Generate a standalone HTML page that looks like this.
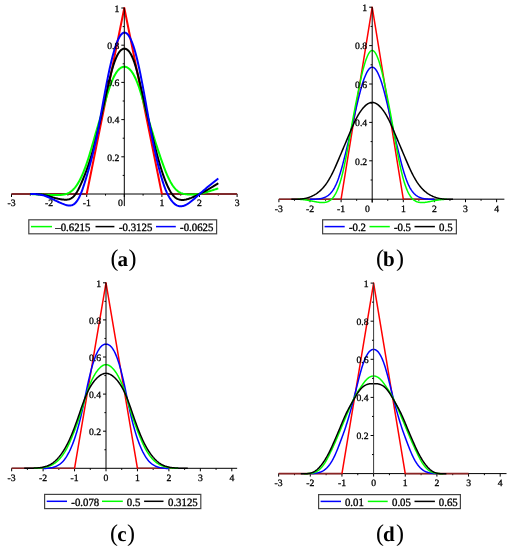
<!DOCTYPE html>
<html><head><meta charset="utf-8"><style>
html,body{margin:0;padding:0;background:#fff;}
svg{display:block;}
text{text-rendering:geometricPrecision;}
.t{font-family:"Liberation Serif",serif;font-size:9.7px;font-weight:normal;fill:#000;stroke:#000;stroke-width:0.3px;}
.lg{font-family:"Liberation Serif",serif;font-size:11.2px;font-weight:normal;fill:#000;stroke:#000;stroke-width:0.35px;}
.cap{font-family:"Liberation Serif",serif;font-size:21px;fill:#000;}
</style></head><body>
<svg width="510" height="550" viewBox="0 0 510 550">
<rect width="510" height="550" fill="#fff"/>
<line x1="11.50" y1="194.0" x2="237.10" y2="194.0" stroke="#000" stroke-width="1"/>
<line x1="11.50" y1="194.0" x2="11.50" y2="197.0" stroke="#000" stroke-width="1"/>
<line x1="30.30" y1="194.0" x2="30.30" y2="195.6" stroke="#000" stroke-width="1"/>
<line x1="49.10" y1="194.0" x2="49.10" y2="197.0" stroke="#000" stroke-width="1"/>
<line x1="67.90" y1="194.0" x2="67.90" y2="195.6" stroke="#000" stroke-width="1"/>
<line x1="86.70" y1="194.0" x2="86.70" y2="197.0" stroke="#000" stroke-width="1"/>
<line x1="105.50" y1="194.0" x2="105.50" y2="195.6" stroke="#000" stroke-width="1"/>
<line x1="124.30" y1="194.0" x2="124.30" y2="197.0" stroke="#000" stroke-width="1"/>
<line x1="143.10" y1="194.0" x2="143.10" y2="195.6" stroke="#000" stroke-width="1"/>
<line x1="161.90" y1="194.0" x2="161.90" y2="197.0" stroke="#000" stroke-width="1"/>
<line x1="180.70" y1="194.0" x2="180.70" y2="195.6" stroke="#000" stroke-width="1"/>
<line x1="199.50" y1="194.0" x2="199.50" y2="197.0" stroke="#000" stroke-width="1"/>
<line x1="218.30" y1="194.0" x2="218.30" y2="195.6" stroke="#000" stroke-width="1"/>
<line x1="237.10" y1="194.0" x2="237.10" y2="197.0" stroke="#000" stroke-width="1"/>
<line x1="11.50" y1="194.0" x2="87.30" y2="194.0" stroke="#7f2a2c" stroke-width="2.1"/>
<line x1="161.30" y1="194.0" x2="237.10" y2="194.0" stroke="#7f2a2c" stroke-width="2.1"/>
<path d="M86.70,194.0 L124.30,8.00 L161.90,194.0" fill="none" stroke="#ff0000" stroke-width="2.0" stroke-linejoin="round"/>
<path d="M30.30,194.01 L30.93,194.05 L31.56,194.09 L32.19,194.13 L32.82,194.16 L33.44,194.20 L34.07,194.24 L34.70,194.27 L35.33,194.31 L35.96,194.34 L36.59,194.38 L37.22,194.41 L37.85,194.44 L38.47,194.47 L39.10,194.50 L39.73,194.52 L40.36,194.55 L40.99,194.57 L41.62,194.59 L42.25,194.61 L42.88,194.63 L43.50,194.65 L44.13,194.67 L44.76,194.69 L45.39,194.71 L46.02,194.73 L46.65,194.75 L47.28,194.77 L47.91,194.79 L48.53,194.81 L49.16,194.83 L49.79,194.86 L50.42,194.88 L51.05,194.91 L51.68,194.93 L52.31,194.96 L52.94,194.98 L53.56,195.00 L54.19,195.02 L54.82,195.04 L55.45,195.05 L56.08,195.06 L56.71,195.06 L57.34,195.06 L57.97,195.06 L58.59,195.05 L59.22,195.03 L59.85,195.01 L60.48,194.97 L61.11,194.93 L61.74,194.87 L62.37,194.80 L63.00,194.71 L63.62,194.61 L64.25,194.48 L64.88,194.34 L65.51,194.17 L66.14,193.98 L66.77,193.76 L67.40,193.52 L68.03,193.25 L68.65,192.94 L69.28,192.60 L69.91,192.23 L70.54,191.81 L71.17,191.35 L71.80,190.85 L72.43,190.31 L73.06,189.71 L73.68,189.07 L74.31,188.39 L74.94,187.65 L75.57,186.86 L76.20,186.01 L76.83,185.12 L77.46,184.16 L78.09,183.15 L78.71,182.08 L79.34,180.94 L79.97,179.74 L80.60,178.48 L81.23,177.16 L81.86,175.77 L82.49,174.33 L83.12,172.84 L83.74,171.29 L84.37,169.69 L85.00,168.03 L85.63,166.33 L86.26,164.56 L86.89,162.74 L87.52,160.87 L88.15,158.94 L88.77,156.97 L89.40,154.96 L90.03,152.90 L90.66,150.81 L91.29,148.68 L91.92,146.53 L92.55,144.35 L93.18,142.16 L93.81,139.96 L94.43,137.76 L95.06,135.56 L95.69,133.37 L96.32,131.20 L96.95,129.06 L97.58,126.94 L98.21,124.84 L98.84,122.75 L99.46,120.66 L100.09,118.59 L100.72,116.51 L101.35,114.43 L101.98,112.33 L102.61,110.23 L103.24,108.10 L103.87,105.96 L104.49,103.80 L105.12,101.65 L105.75,99.51 L106.38,97.40 L107.01,95.33 L107.64,93.30 L108.27,91.33 L108.90,89.41 L109.52,87.56 L110.15,85.78 L110.78,84.07 L111.41,82.44 L112.04,80.90 L112.67,79.44 L113.30,78.06 L113.93,76.76 L114.55,75.54 L115.18,74.41 L115.81,73.36 L116.44,72.39 L117.07,71.50 L117.70,70.69 L118.33,69.96 L118.96,69.31 L119.58,68.73 L120.21,68.23 L120.84,67.81 L121.47,67.45 L122.10,67.18 L122.73,66.97 L123.36,66.83 L123.99,66.76 L124.61,66.76 L125.24,66.83 L125.87,66.96 L126.50,67.17 L127.13,67.44 L127.76,67.79 L128.39,68.22 L129.02,68.71 L129.64,69.28 L130.27,69.93 L130.90,70.66 L131.53,71.47 L132.16,72.35 L132.79,73.32 L133.42,74.37 L134.05,75.50 L134.67,76.71 L135.30,78.01 L135.93,79.39 L136.56,80.85 L137.19,82.40 L137.82,84.03 L138.45,85.74 L139.08,87.54 L139.70,89.40 L140.33,91.34 L140.96,93.34 L141.59,95.39 L142.22,97.50 L142.85,99.66 L143.48,101.84 L144.11,104.06 L144.73,106.28 L145.36,108.49 L145.99,110.69 L146.62,112.88 L147.25,115.05 L147.88,117.20 L148.51,119.34 L149.14,121.46 L149.76,123.57 L150.39,125.66 L151.02,127.74 L151.65,129.81 L152.28,131.87 L152.91,133.91 L153.54,135.94 L154.17,137.96 L154.79,139.97 L155.42,141.95 L156.05,143.93 L156.68,145.89 L157.31,147.83 L157.94,149.75 L158.57,151.66 L159.20,153.55 L159.83,155.42 L160.45,157.27 L161.08,159.10 L161.71,160.90 L162.34,162.68 L162.97,164.43 L163.60,166.15 L164.23,167.83 L164.86,169.47 L165.48,171.07 L166.11,172.62 L166.74,174.12 L167.37,175.57 L168.00,176.96 L168.63,178.29 L169.26,179.57 L169.89,180.79 L170.51,181.95 L171.14,183.06 L171.77,184.10 L172.40,185.09 L173.03,186.02 L173.66,186.88 L174.29,187.69 L174.92,188.43 L175.54,189.12 L176.17,189.75 L176.80,190.33 L177.43,190.85 L178.06,191.33 L178.69,191.76 L179.32,192.15 L179.95,192.49 L180.57,192.80 L181.20,193.08 L181.83,193.32 L182.46,193.53 L183.09,193.71 L183.72,193.87 L184.35,194.01 L184.98,194.12 L185.60,194.21 L186.23,194.28 L186.86,194.34 L187.49,194.38 L188.12,194.41 L188.75,194.44 L189.38,194.45 L190.01,194.46 L190.63,194.46 L191.26,194.47 L191.89,194.46 L192.52,194.45 L193.15,194.44 L193.78,194.42 L194.41,194.39 L195.04,194.36 L195.66,194.32 L196.29,194.27 L196.92,194.21 L197.55,194.14 L198.18,194.06 L198.81,193.97 L199.44,193.88 L200.07,193.77 L200.69,193.65 L201.32,193.51 L201.95,193.37 L202.58,193.22 L203.21,193.07 L203.84,192.90 L204.47,192.73 L205.10,192.56 L205.72,192.37 L206.35,192.19 L206.98,192.00 L207.61,191.80 L208.24,191.61 L208.87,191.41 L209.50,191.21 L210.13,191.02 L210.75,190.82 L211.38,190.62 L212.01,190.42 L212.64,190.22 L213.27,190.02 L213.90,189.82 L214.53,189.62 L215.16,189.42 L215.78,189.22 L216.41,189.02 L217.04,188.82 L217.67,188.62 L218.30,188.42" fill="none" stroke="#00ff00" stroke-width="2.0" stroke-linejoin="round"/>
<path d="M30.30,193.94 L30.93,193.95 L31.56,193.95 L32.19,193.96 L32.82,193.96 L33.44,193.97 L34.07,193.98 L34.70,194.00 L35.33,194.02 L35.96,194.04 L36.59,194.07 L37.22,194.10 L37.85,194.14 L38.47,194.19 L39.10,194.24 L39.73,194.30 L40.36,194.37 L40.99,194.45 L41.62,194.53 L42.25,194.63 L42.88,194.73 L43.50,194.85 L44.13,194.98 L44.76,195.12 L45.39,195.27 L46.02,195.43 L46.65,195.59 L47.28,195.76 L47.91,195.94 L48.53,196.12 L49.16,196.31 L49.79,196.50 L50.42,196.69 L51.05,196.88 L51.68,197.07 L52.31,197.26 L52.94,197.44 L53.56,197.62 L54.19,197.80 L54.82,197.97 L55.45,198.13 L56.08,198.29 L56.71,198.44 L57.34,198.59 L57.97,198.73 L58.59,198.86 L59.22,198.98 L59.85,199.10 L60.48,199.20 L61.11,199.30 L61.74,199.39 L62.37,199.47 L63.00,199.54 L63.62,199.60 L64.25,199.65 L64.88,199.69 L65.51,199.70 L66.14,199.70 L66.77,199.66 L67.40,199.60 L68.03,199.50 L68.65,199.36 L69.28,199.19 L69.91,198.96 L70.54,198.69 L71.17,198.36 L71.80,197.97 L72.43,197.52 L73.06,196.99 L73.68,196.39 L74.31,195.71 L74.94,194.95 L75.57,194.10 L76.20,193.18 L76.83,192.18 L77.46,191.10 L78.09,189.96 L78.71,188.76 L79.34,187.50 L79.97,186.18 L80.60,184.82 L81.23,183.42 L81.86,181.98 L82.49,180.51 L83.12,179.01 L83.74,177.49 L84.37,175.93 L85.00,174.35 L85.63,172.72 L86.26,171.06 L86.89,169.36 L87.52,167.61 L88.15,165.82 L88.77,163.97 L89.40,162.06 L90.03,160.10 L90.66,158.08 L91.29,156.00 L91.92,153.86 L92.55,151.66 L93.18,149.40 L93.81,147.08 L94.43,144.69 L95.06,142.24 L95.69,139.75 L96.32,137.20 L96.95,134.62 L97.58,131.99 L98.21,129.34 L98.84,126.65 L99.46,123.94 L100.09,121.20 L100.72,118.45 L101.35,115.67 L101.98,112.87 L102.61,110.06 L103.24,107.24 L103.87,104.41 L104.49,101.57 L105.12,98.73 L105.75,95.90 L106.38,93.08 L107.01,90.28 L107.64,87.51 L108.27,84.78 L108.90,82.11 L109.52,79.49 L110.15,76.95 L110.78,74.48 L111.41,72.11 L112.04,69.83 L112.67,67.65 L113.30,65.58 L113.93,63.63 L114.55,61.80 L115.18,60.10 L115.81,58.53 L116.44,57.08 L117.07,55.76 L117.70,54.55 L118.33,53.47 L118.96,52.50 L119.58,51.65 L120.21,50.91 L120.84,50.28 L121.47,49.76 L122.10,49.34 L122.73,49.03 L123.36,48.81 L123.99,48.70 L124.61,48.69 L125.24,48.77 L125.87,48.95 L126.50,49.23 L127.13,49.62 L127.76,50.11 L128.39,50.72 L129.02,51.44 L129.64,52.27 L130.27,53.22 L130.90,54.29 L131.53,55.48 L132.16,56.80 L132.79,58.25 L133.42,59.83 L134.05,61.54 L134.67,63.39 L135.30,65.36 L135.93,67.46 L136.56,69.67 L137.19,71.98 L137.82,74.38 L138.45,76.87 L139.08,79.43 L139.70,82.06 L140.33,84.75 L140.96,87.47 L141.59,90.23 L142.22,93.01 L142.85,95.80 L143.48,98.59 L144.11,101.37 L144.73,104.14 L145.36,106.89 L145.99,109.62 L146.62,112.32 L147.25,115.00 L147.88,117.66 L148.51,120.30 L149.14,122.92 L149.76,125.53 L150.39,128.13 L151.02,130.72 L151.65,133.29 L152.28,135.86 L152.91,138.41 L153.54,140.94 L154.17,143.44 L154.79,145.93 L155.42,148.38 L156.05,150.80 L156.68,153.18 L157.31,155.53 L157.94,157.83 L158.57,160.08 L159.20,162.28 L159.83,164.43 L160.45,166.53 L161.08,168.57 L161.71,170.56 L162.34,172.48 L162.97,174.35 L163.60,176.16 L164.23,177.90 L164.86,179.59 L165.48,181.20 L166.11,182.75 L166.74,184.24 L167.37,185.65 L168.00,187.00 L168.63,188.28 L169.26,189.50 L169.89,190.64 L170.51,191.71 L171.14,192.71 L171.77,193.64 L172.40,194.49 L173.03,195.28 L173.66,195.99 L174.29,196.63 L174.92,197.20 L175.54,197.71 L176.17,198.16 L176.80,198.55 L177.43,198.88 L178.06,199.16 L178.69,199.40 L179.32,199.59 L179.95,199.73 L180.57,199.84 L181.20,199.91 L181.83,199.95 L182.46,199.96 L183.09,199.94 L183.72,199.89 L184.35,199.82 L184.98,199.73 L185.60,199.61 L186.23,199.48 L186.86,199.32 L187.49,199.15 L188.12,198.96 L188.75,198.76 L189.38,198.54 L190.01,198.31 L190.63,198.07 L191.26,197.83 L191.89,197.57 L192.52,197.31 L193.15,197.04 L193.78,196.77 L194.41,196.49 L195.04,196.20 L195.66,195.91 L196.29,195.62 L196.92,195.32 L197.55,195.01 L198.18,194.70 L198.81,194.39 L199.44,194.08 L200.07,193.76 L200.69,193.44 L201.32,193.12 L201.95,192.79 L202.58,192.46 L203.21,192.13 L203.84,191.79 L204.47,191.46 L205.10,191.11 L205.72,190.77 L206.35,190.42 L206.98,190.07 L207.61,189.71 L208.24,189.36 L208.87,188.99 L209.50,188.63 L210.13,188.26 L210.75,187.89 L211.38,187.51 L212.01,187.13 L212.64,186.75 L213.27,186.36 L213.90,185.98 L214.53,185.59 L215.16,185.20 L215.78,184.81 L216.41,184.42 L217.04,184.03 L217.67,183.63 L218.30,183.24" fill="none" stroke="#000000" stroke-width="2.0" stroke-linejoin="round"/>
<path d="M30.30,193.92 L30.93,193.94 L31.56,193.95 L32.19,193.97 L32.82,193.99 L33.44,194.01 L34.07,194.04 L34.70,194.07 L35.33,194.11 L35.96,194.15 L36.59,194.20 L37.22,194.26 L37.85,194.32 L38.47,194.40 L39.10,194.48 L39.73,194.58 L40.36,194.68 L40.99,194.80 L41.62,194.93 L42.25,195.07 L42.88,195.23 L43.50,195.40 L44.13,195.59 L44.76,195.80 L45.39,196.01 L46.02,196.25 L46.65,196.49 L47.28,196.74 L47.91,197.01 L48.53,197.28 L49.16,197.56 L49.79,197.85 L50.42,198.15 L51.05,198.44 L51.68,198.75 L52.31,199.05 L52.94,199.35 L53.56,199.66 L54.19,199.96 L54.82,200.26 L55.45,200.57 L56.08,200.86 L56.71,201.16 L57.34,201.45 L57.97,201.74 L58.59,202.03 L59.22,202.31 L59.85,202.59 L60.48,202.86 L61.11,203.13 L61.74,203.40 L62.37,203.65 L63.00,203.91 L63.62,204.15 L64.25,204.39 L64.88,204.62 L65.51,204.83 L66.14,205.02 L66.77,205.19 L67.40,205.33 L68.03,205.44 L68.65,205.51 L69.28,205.54 L69.91,205.53 L70.54,205.48 L71.17,205.37 L71.80,205.20 L72.43,204.98 L73.06,204.69 L73.68,204.32 L74.31,203.88 L74.94,203.36 L75.57,202.74 L76.20,202.03 L76.83,201.23 L77.46,200.32 L78.09,199.30 L78.71,198.19 L79.34,196.97 L79.97,195.65 L80.60,194.21 L81.23,192.68 L81.86,191.06 L82.49,189.34 L83.12,187.54 L83.74,185.66 L84.37,183.71 L85.00,181.71 L85.63,179.66 L86.26,177.56 L86.89,175.44 L87.52,173.29 L88.15,171.12 L88.77,168.93 L89.40,166.71 L90.03,164.45 L90.66,162.14 L91.29,159.79 L91.92,157.38 L92.55,154.91 L93.18,152.38 L93.81,149.79 L94.43,147.12 L95.06,144.38 L95.69,141.56 L96.32,138.66 L96.95,135.66 L97.58,132.58 L98.21,129.39 L98.84,126.11 L99.46,122.72 L100.09,119.26 L100.72,115.76 L101.35,112.23 L101.98,108.71 L102.61,105.20 L103.24,101.71 L103.87,98.25 L104.49,94.82 L105.12,91.43 L105.75,88.08 L106.38,84.78 L107.01,81.55 L107.64,78.37 L108.27,75.27 L108.90,72.24 L109.52,69.29 L110.15,66.43 L110.78,63.67 L111.41,61.01 L112.04,58.45 L112.67,56.01 L113.30,53.67 L113.93,51.45 L114.55,49.34 L115.18,47.35 L115.81,45.48 L116.44,43.73 L117.07,42.09 L117.70,40.59 L118.33,39.20 L118.96,37.94 L119.58,36.81 L120.21,35.81 L120.84,34.94 L121.47,34.21 L122.10,33.61 L122.73,33.14 L123.36,32.81 L123.99,32.63 L124.61,32.58 L125.24,32.67 L125.87,32.91 L126.50,33.28 L127.13,33.79 L127.76,34.44 L128.39,35.22 L129.02,36.13 L129.64,37.18 L130.27,38.36 L130.90,39.66 L131.53,41.10 L132.16,42.66 L132.79,44.35 L133.42,46.16 L134.05,48.09 L134.67,50.15 L135.30,52.32 L135.93,54.61 L136.56,57.02 L137.19,59.55 L137.82,62.19 L138.45,64.94 L139.08,67.80 L139.70,70.75 L140.33,73.79 L140.96,76.91 L141.59,80.11 L142.22,83.38 L142.85,86.71 L143.48,90.09 L144.11,93.53 L144.73,97.00 L145.36,100.51 L145.99,104.05 L146.62,107.60 L147.25,111.17 L147.88,114.75 L148.51,118.31 L149.14,121.85 L149.76,125.34 L150.39,128.76 L151.02,132.11 L151.65,135.38 L152.28,138.58 L152.91,141.70 L153.54,144.76 L154.17,147.74 L154.79,150.65 L155.42,153.50 L156.05,156.28 L156.68,158.99 L157.31,161.65 L157.94,164.24 L158.57,166.77 L159.20,169.23 L159.83,171.61 L160.45,173.93 L161.08,176.16 L161.71,178.32 L162.34,180.39 L162.97,182.37 L163.60,184.27 L164.23,186.06 L164.86,187.76 L165.48,189.37 L166.11,190.88 L166.74,192.31 L167.37,193.65 L168.00,194.91 L168.63,196.09 L169.26,197.20 L169.89,198.23 L170.51,199.19 L171.14,200.09 L171.77,200.92 L172.40,201.69 L173.03,202.39 L173.66,203.03 L174.29,203.61 L174.92,204.13 L175.54,204.59 L176.17,205.00 L176.80,205.34 L177.43,205.63 L178.06,205.86 L178.69,206.04 L179.32,206.17 L179.95,206.25 L180.57,206.27 L181.20,206.25 L181.83,206.19 L182.46,206.09 L183.09,205.94 L183.72,205.75 L184.35,205.53 L184.98,205.28 L185.60,204.99 L186.23,204.67 L186.86,204.33 L187.49,203.96 L188.12,203.56 L188.75,203.14 L189.38,202.71 L190.01,202.25 L190.63,201.78 L191.26,201.29 L191.89,200.79 L192.52,200.28 L193.15,199.76 L193.78,199.23 L194.41,198.68 L195.04,198.13 L195.66,197.58 L196.29,197.02 L196.92,196.45 L197.55,195.88 L198.18,195.31 L198.81,194.75 L199.44,194.18 L200.07,193.61 L200.69,193.05 L201.32,192.49 L201.95,191.93 L202.58,191.38 L203.21,190.82 L203.84,190.28 L204.47,189.73 L205.10,189.19 L205.72,188.65 L206.35,188.11 L206.98,187.58 L207.61,187.05 L208.24,186.53 L208.87,186.01 L209.50,185.49 L210.13,184.98 L210.75,184.47 L211.38,183.96 L212.01,183.46 L212.64,182.96 L213.27,182.46 L213.90,181.96 L214.53,181.47 L215.16,180.98 L215.78,180.49 L216.41,180.00 L217.04,179.51 L217.67,179.02 L218.30,178.53" fill="none" stroke="#0000ff" stroke-width="2.0" stroke-linejoin="round"/>
<line x1="124.3" y1="8.00" x2="124.3" y2="206.09" stroke="#000" stroke-width="1"/>
<line x1="122.7" y1="175.40" x2="124.3" y2="175.40" stroke="#000" stroke-width="1"/>
<line x1="121.3" y1="156.80" x2="124.3" y2="156.80" stroke="#000" stroke-width="1"/>
<line x1="122.7" y1="138.20" x2="124.3" y2="138.20" stroke="#000" stroke-width="1"/>
<line x1="121.3" y1="119.60" x2="124.3" y2="119.60" stroke="#000" stroke-width="1"/>
<line x1="122.7" y1="101.00" x2="124.3" y2="101.00" stroke="#000" stroke-width="1"/>
<line x1="121.3" y1="82.40" x2="124.3" y2="82.40" stroke="#000" stroke-width="1"/>
<line x1="122.7" y1="63.80" x2="124.3" y2="63.80" stroke="#000" stroke-width="1"/>
<line x1="121.3" y1="45.20" x2="124.3" y2="45.20" stroke="#000" stroke-width="1"/>
<line x1="122.7" y1="26.60" x2="124.3" y2="26.60" stroke="#000" stroke-width="1"/>
<line x1="121.3" y1="8.00" x2="124.3" y2="8.00" stroke="#000" stroke-width="1"/>
<text x="11.50" y="206.30" text-anchor="middle" class="t">-3</text>
<text x="49.10" y="206.30" text-anchor="middle" class="t">-2</text>
<text x="86.70" y="206.30" text-anchor="middle" class="t">-1</text>
<text x="120.30" y="206.30" text-anchor="middle" class="t">0</text>
<text x="161.90" y="206.30" text-anchor="middle" class="t">1</text>
<text x="199.50" y="206.30" text-anchor="middle" class="t">2</text>
<text x="237.10" y="206.30" text-anchor="middle" class="t">3</text>
<text x="119.30" y="160.50" text-anchor="end" class="t">0.2</text>
<text x="119.30" y="123.30" text-anchor="end" class="t">0.4</text>
<text x="119.30" y="86.10" text-anchor="end" class="t">0.6</text>
<text x="119.30" y="48.90" text-anchor="end" class="t">0.8</text>
<text x="119.30" y="11.70" text-anchor="end" class="t">1</text>
<line x1="278.90" y1="199.2" x2="504.38" y2="199.2" stroke="#000" stroke-width="1"/>
<line x1="278.90" y1="199.2" x2="278.90" y2="202.2" stroke="#000" stroke-width="1"/>
<line x1="294.45" y1="199.2" x2="294.45" y2="200.79999999999998" stroke="#000" stroke-width="1"/>
<line x1="310.00" y1="199.2" x2="310.00" y2="202.2" stroke="#000" stroke-width="1"/>
<line x1="325.55" y1="199.2" x2="325.55" y2="200.79999999999998" stroke="#000" stroke-width="1"/>
<line x1="341.10" y1="199.2" x2="341.10" y2="202.2" stroke="#000" stroke-width="1"/>
<line x1="356.65" y1="199.2" x2="356.65" y2="200.79999999999998" stroke="#000" stroke-width="1"/>
<line x1="372.20" y1="199.2" x2="372.20" y2="202.2" stroke="#000" stroke-width="1"/>
<line x1="387.75" y1="199.2" x2="387.75" y2="200.79999999999998" stroke="#000" stroke-width="1"/>
<line x1="403.30" y1="199.2" x2="403.30" y2="202.2" stroke="#000" stroke-width="1"/>
<line x1="418.85" y1="199.2" x2="418.85" y2="200.79999999999998" stroke="#000" stroke-width="1"/>
<line x1="434.40" y1="199.2" x2="434.40" y2="202.2" stroke="#000" stroke-width="1"/>
<line x1="449.95" y1="199.2" x2="449.95" y2="200.79999999999998" stroke="#000" stroke-width="1"/>
<line x1="465.50" y1="199.2" x2="465.50" y2="202.2" stroke="#000" stroke-width="1"/>
<line x1="481.05" y1="199.2" x2="481.05" y2="200.79999999999998" stroke="#000" stroke-width="1"/>
<line x1="496.60" y1="199.2" x2="496.60" y2="202.2" stroke="#000" stroke-width="1"/>
<line x1="278.90" y1="199.2" x2="341.70" y2="199.2" stroke="#8a2424" stroke-width="1.6"/>
<line x1="402.70" y1="199.2" x2="434.40" y2="199.2" stroke="#8a2424" stroke-width="1.6"/>
<path d="M341.10,199.2 L372.20,7.20 L403.30,199.2" fill="none" stroke="#ff0000" stroke-width="1.5" stroke-linejoin="round"/>
<path d="M310.00,199.25 L310.42,199.25 L310.83,199.26 L311.25,199.26 L311.66,199.26 L312.08,199.26 L312.50,199.25 L312.91,199.25 L313.33,199.25 L313.74,199.24 L314.16,199.23 L314.58,199.22 L314.99,199.20 L315.41,199.19 L315.82,199.16 L316.24,199.14 L316.66,199.11 L317.07,199.08 L317.49,199.04 L317.91,199.00 L318.32,198.96 L318.74,198.91 L319.15,198.85 L319.57,198.79 L319.99,198.72 L320.40,198.65 L320.82,198.57 L321.23,198.48 L321.65,198.38 L322.07,198.28 L322.48,198.16 L322.90,198.04 L323.31,197.91 L323.73,197.76 L324.15,197.61 L324.56,197.44 L324.98,197.26 L325.39,197.07 L325.81,196.86 L326.23,196.64 L326.64,196.41 L327.06,196.16 L327.47,195.89 L327.89,195.61 L328.31,195.31 L328.72,194.98 L329.14,194.64 L329.55,194.27 L329.97,193.88 L330.39,193.46 L330.80,193.01 L331.22,192.54 L331.63,192.03 L332.05,191.50 L332.47,190.93 L332.88,190.32 L333.30,189.69 L333.72,189.01 L334.13,188.30 L334.55,187.55 L334.96,186.76 L335.38,185.93 L335.80,185.06 L336.21,184.15 L336.63,183.20 L337.04,182.20 L337.46,181.17 L337.88,180.09 L338.29,178.96 L338.71,177.80 L339.12,176.58 L339.54,175.32 L339.96,174.02 L340.37,172.68 L340.79,171.30 L341.20,169.88 L341.62,168.42 L342.04,166.94 L342.45,165.42 L342.87,163.87 L343.28,162.29 L343.70,160.68 L344.12,159.05 L344.53,157.40 L344.95,155.74 L345.36,154.06 L345.78,152.36 L346.20,150.66 L346.61,148.95 L347.03,147.24 L347.44,145.53 L347.86,143.82 L348.28,142.11 L348.69,140.40 L349.11,138.68 L349.53,136.95 L349.94,135.22 L350.36,133.47 L350.77,131.70 L351.19,129.92 L351.61,128.12 L352.02,126.30 L352.44,124.48 L352.85,122.66 L353.27,120.82 L353.69,118.99 L354.10,117.16 L354.52,115.33 L354.93,113.51 L355.35,111.70 L355.77,109.90 L356.18,108.10 L356.60,106.32 L357.01,104.56 L357.43,102.81 L357.85,101.08 L358.26,99.37 L358.68,97.67 L359.09,96.00 L359.51,94.36 L359.93,92.75 L360.34,91.16 L360.76,89.61 L361.17,88.10 L361.59,86.64 L362.01,85.21 L362.42,83.84 L362.84,82.52 L363.25,81.25 L363.67,80.03 L364.09,78.86 L364.50,77.75 L364.92,76.69 L365.34,75.68 L365.75,74.72 L366.17,73.82 L366.58,72.97 L367.00,72.18 L367.42,71.43 L367.83,70.75 L368.25,70.12 L368.66,69.54 L369.08,69.03 L369.50,68.57 L369.91,68.18 L370.33,67.84 L370.74,67.58 L371.16,67.37 L371.58,67.24 L371.99,67.17 L372.41,67.17 L372.82,67.24 L373.24,67.37 L373.66,67.58 L374.07,67.84 L374.49,68.18 L374.90,68.57 L375.32,69.03 L375.74,69.54 L376.15,70.12 L376.57,70.75 L376.98,71.43 L377.40,72.18 L377.82,72.97 L378.23,73.82 L378.65,74.72 L379.06,75.68 L379.48,76.69 L379.90,77.75 L380.31,78.86 L380.73,80.03 L381.15,81.25 L381.56,82.52 L381.98,83.84 L382.39,85.21 L382.81,86.64 L383.23,88.10 L383.64,89.61 L384.06,91.16 L384.47,92.75 L384.89,94.36 L385.31,96.00 L385.72,97.67 L386.14,99.37 L386.55,101.08 L386.97,102.81 L387.39,104.56 L387.80,106.32 L388.22,108.10 L388.63,109.90 L389.05,111.70 L389.47,113.51 L389.88,115.33 L390.30,117.16 L390.71,118.99 L391.13,120.82 L391.55,122.66 L391.96,124.48 L392.38,126.30 L392.79,128.12 L393.21,129.92 L393.63,131.70 L394.04,133.47 L394.46,135.22 L394.87,136.95 L395.29,138.68 L395.71,140.40 L396.12,142.11 L396.54,143.82 L396.96,145.53 L397.37,147.24 L397.79,148.95 L398.20,150.66 L398.62,152.36 L399.04,154.06 L399.45,155.74 L399.87,157.40 L400.28,159.05 L400.70,160.68 L401.12,162.29 L401.53,163.87 L401.95,165.42 L402.36,166.94 L402.78,168.42 L403.20,169.88 L403.61,171.30 L404.03,172.68 L404.44,174.02 L404.86,175.32 L405.28,176.58 L405.69,177.80 L406.11,178.96 L406.52,180.09 L406.94,181.17 L407.36,182.20 L407.77,183.20 L408.19,184.15 L408.60,185.06 L409.02,185.93 L409.44,186.76 L409.85,187.55 L410.27,188.30 L410.68,189.01 L411.10,189.69 L411.52,190.32 L411.93,190.93 L412.35,191.50 L412.77,192.03 L413.18,192.54 L413.60,193.01 L414.01,193.46 L414.43,193.88 L414.85,194.27 L415.26,194.64 L415.68,194.98 L416.09,195.31 L416.51,195.61 L416.93,195.89 L417.34,196.16 L417.76,196.41 L418.17,196.64 L418.59,196.86 L419.01,197.07 L419.42,197.26 L419.84,197.44 L420.25,197.61 L420.67,197.76 L421.09,197.91 L421.50,198.04 L421.92,198.16 L422.33,198.28 L422.75,198.38 L423.17,198.48 L423.58,198.57 L424.00,198.65 L424.41,198.72 L424.83,198.79 L425.25,198.85 L425.66,198.91 L426.08,198.96 L426.49,199.00 L426.91,199.04 L427.33,199.08 L427.74,199.11 L428.16,199.14 L428.58,199.16 L428.99,199.19 L429.41,199.20 L429.82,199.22 L430.24,199.23 L430.66,199.24 L431.07,199.25 L431.49,199.25 L431.90,199.25 L432.32,199.26 L432.74,199.26 L433.15,199.26 L433.57,199.26 L433.98,199.25 L434.40,199.25" fill="none" stroke="#0000ff" stroke-width="1.5" stroke-linejoin="round"/>
<path d="M297.56,199.19 L298.06,199.22 L298.56,199.25 L299.06,199.28 L299.56,199.31 L300.06,199.34 L300.56,199.38 L301.05,199.42 L301.55,199.46 L302.05,199.51 L302.55,199.55 L303.05,199.61 L303.55,199.66 L304.05,199.72 L304.55,199.78 L305.05,199.84 L305.55,199.91 L306.05,199.98 L306.55,200.06 L307.05,200.14 L307.55,200.22 L308.04,200.31 L308.54,200.39 L309.04,200.49 L309.54,200.58 L310.04,200.67 L310.54,200.77 L311.04,200.87 L311.54,200.97 L312.04,201.07 L312.54,201.17 L313.04,201.27 L313.54,201.37 L314.04,201.47 L314.53,201.57 L315.03,201.67 L315.53,201.77 L316.03,201.86 L316.53,201.95 L317.03,202.04 L317.53,202.12 L318.03,202.20 L318.53,202.27 L319.03,202.33 L319.53,202.39 L320.03,202.44 L320.53,202.48 L321.03,202.52 L321.52,202.54 L322.02,202.55 L322.52,202.55 L323.02,202.54 L323.52,202.52 L324.02,202.48 L324.52,202.43 L325.02,202.36 L325.52,202.27 L326.02,202.16 L326.52,202.03 L327.02,201.88 L327.52,201.71 L328.02,201.51 L328.51,201.28 L329.01,201.03 L329.51,200.73 L330.01,200.41 L330.51,200.04 L331.01,199.64 L331.51,199.19 L332.01,198.70 L332.51,198.15 L333.01,197.56 L333.51,196.92 L334.01,196.22 L334.51,195.47 L335.00,194.66 L335.50,193.78 L336.00,192.85 L336.50,191.84 L337.00,190.77 L337.50,189.62 L338.00,188.41 L338.50,187.11 L339.00,185.74 L339.50,184.28 L340.00,182.74 L340.50,181.12 L341.00,179.40 L341.50,177.59 L341.99,175.68 L342.49,173.69 L342.99,171.60 L343.49,169.43 L343.99,167.18 L344.49,164.86 L344.99,162.47 L345.49,160.02 L345.99,157.51 L346.49,154.94 L346.99,152.32 L347.49,149.64 L347.99,146.92 L348.48,144.15 L348.98,141.33 L349.48,138.48 L349.98,135.61 L350.48,132.72 L350.98,129.84 L351.48,126.97 L351.98,124.12 L352.48,121.31 L352.98,118.55 L353.48,115.83 L353.98,113.17 L354.48,110.55 L354.98,107.97 L355.47,105.41 L355.97,102.87 L356.47,100.35 L356.97,97.84 L357.47,95.32 L357.97,92.80 L358.47,90.30 L358.97,87.82 L359.47,85.37 L359.97,82.97 L360.47,80.62 L360.97,78.34 L361.47,76.12 L361.97,73.98 L362.46,71.91 L362.96,69.93 L363.46,68.03 L363.96,66.22 L364.46,64.49 L364.96,62.85 L365.46,61.29 L365.96,59.83 L366.46,58.47 L366.96,57.19 L367.46,56.02 L367.96,54.95 L368.46,53.99 L368.95,53.14 L369.45,52.40 L369.95,51.77 L370.45,51.27 L370.95,50.88 L371.45,50.62 L371.95,50.49 L372.45,50.49 L372.95,50.62 L373.45,50.88 L373.95,51.27 L374.45,51.77 L374.95,52.40 L375.45,53.14 L375.94,53.99 L376.44,54.95 L376.94,56.02 L377.44,57.19 L377.94,58.47 L378.44,59.83 L378.94,61.29 L379.44,62.85 L379.94,64.49 L380.44,66.22 L380.94,68.03 L381.44,69.93 L381.94,71.91 L382.43,73.98 L382.93,76.12 L383.43,78.34 L383.93,80.62 L384.43,82.97 L384.93,85.37 L385.43,87.82 L385.93,90.30 L386.43,92.80 L386.93,95.32 L387.43,97.84 L387.93,100.35 L388.43,102.87 L388.93,105.41 L389.42,107.97 L389.92,110.55 L390.42,113.17 L390.92,115.83 L391.42,118.55 L391.92,121.31 L392.42,124.12 L392.92,126.97 L393.42,129.84 L393.92,132.72 L394.42,135.61 L394.92,138.48 L395.42,141.33 L395.92,144.15 L396.41,146.92 L396.91,149.64 L397.41,152.32 L397.91,154.94 L398.41,157.51 L398.91,160.02 L399.41,162.47 L399.91,164.86 L400.41,167.18 L400.91,169.43 L401.41,171.60 L401.91,173.69 L402.41,175.68 L402.90,177.59 L403.40,179.40 L403.90,181.12 L404.40,182.74 L404.90,184.28 L405.40,185.74 L405.90,187.11 L406.40,188.41 L406.90,189.62 L407.40,190.77 L407.90,191.84 L408.40,192.85 L408.90,193.78 L409.40,194.66 L409.89,195.47 L410.39,196.22 L410.89,196.92 L411.39,197.56 L411.89,198.15 L412.39,198.70 L412.89,199.19 L413.39,199.64 L413.89,200.04 L414.39,200.41 L414.89,200.73 L415.39,201.03 L415.89,201.28 L416.38,201.51 L416.88,201.71 L417.38,201.88 L417.88,202.03 L418.38,202.16 L418.88,202.27 L419.38,202.36 L419.88,202.43 L420.38,202.48 L420.88,202.52 L421.38,202.54 L421.88,202.55 L422.38,202.55 L422.88,202.54 L423.37,202.52 L423.87,202.48 L424.37,202.44 L424.87,202.39 L425.37,202.33 L425.87,202.27 L426.37,202.20 L426.87,202.12 L427.37,202.04 L427.87,201.95 L428.37,201.86 L428.87,201.77 L429.37,201.67 L429.87,201.57 L430.36,201.47 L430.86,201.37 L431.36,201.27 L431.86,201.17 L432.36,201.07 L432.86,200.97 L433.36,200.87 L433.86,200.77 L434.36,200.67 L434.86,200.58 L435.36,200.49 L435.86,200.39 L436.36,200.31 L436.85,200.22 L437.35,200.14 L437.85,200.06 L438.35,199.98 L438.85,199.91 L439.35,199.84 L439.85,199.78 L440.35,199.72 L440.85,199.66 L441.35,199.61 L441.85,199.55 L442.35,199.51 L442.85,199.46 L443.35,199.42 L443.84,199.38 L444.34,199.34 L444.84,199.31 L445.34,199.28 L445.84,199.25 L446.34,199.22 L446.84,199.19" fill="none" stroke="#00ff00" stroke-width="1.5" stroke-linejoin="round"/>
<path d="M291.34,199.24 L291.88,199.25 L292.42,199.26 L292.96,199.26 L293.50,199.27 L294.04,199.28 L294.59,199.28 L295.13,199.28 L295.67,199.28 L296.21,199.28 L296.75,199.27 L297.29,199.26 L297.83,199.25 L298.37,199.23 L298.91,199.20 L299.45,199.17 L299.99,199.14 L300.53,199.10 L301.08,199.05 L301.62,199.00 L302.16,198.93 L302.70,198.86 L303.24,198.79 L303.78,198.70 L304.32,198.61 L304.86,198.50 L305.40,198.39 L305.94,198.27 L306.48,198.14 L307.03,197.99 L307.57,197.84 L308.11,197.67 L308.65,197.50 L309.19,197.31 L309.73,197.11 L310.27,196.90 L310.81,196.68 L311.35,196.45 L311.89,196.20 L312.43,195.94 L312.97,195.67 L313.52,195.39 L314.06,195.09 L314.60,194.78 L315.14,194.46 L315.68,194.13 L316.22,193.78 L316.76,193.41 L317.30,193.03 L317.84,192.63 L318.38,192.22 L318.92,191.78 L319.47,191.33 L320.01,190.86 L320.55,190.37 L321.09,189.85 L321.63,189.32 L322.17,188.76 L322.71,188.18 L323.25,187.58 L323.79,186.95 L324.33,186.30 L324.87,185.62 L325.41,184.92 L325.96,184.19 L326.50,183.42 L327.04,182.64 L327.58,181.82 L328.12,180.97 L328.66,180.09 L329.20,179.18 L329.74,178.23 L330.28,177.26 L330.82,176.26 L331.36,175.23 L331.91,174.17 L332.45,173.09 L332.99,171.99 L333.53,170.86 L334.07,169.70 L334.61,168.53 L335.15,167.33 L335.69,166.12 L336.23,164.89 L336.77,163.65 L337.31,162.40 L337.85,161.13 L338.40,159.86 L338.94,158.59 L339.48,157.31 L340.02,156.03 L340.56,154.75 L341.10,153.47 L341.64,152.19 L342.18,150.91 L342.72,149.63 L343.26,148.34 L343.80,147.06 L344.35,145.78 L344.89,144.50 L345.43,143.22 L345.97,141.94 L346.51,140.66 L347.05,139.37 L347.59,138.09 L348.13,136.81 L348.67,135.53 L349.21,134.25 L349.75,132.97 L350.29,131.69 L350.84,130.42 L351.38,129.15 L351.92,127.89 L352.46,126.65 L353.00,125.42 L353.54,124.22 L354.08,123.03 L354.62,121.88 L355.16,120.75 L355.70,119.66 L356.24,118.61 L356.79,117.58 L357.33,116.59 L357.87,115.64 L358.41,114.71 L358.95,113.82 L359.49,112.96 L360.03,112.13 L360.57,111.33 L361.11,110.57 L361.65,109.84 L362.19,109.13 L362.73,108.46 L363.28,107.82 L363.82,107.22 L364.36,106.64 L364.90,106.10 L365.44,105.60 L365.98,105.12 L366.52,104.69 L367.06,104.29 L367.60,103.93 L368.14,103.61 L368.68,103.32 L369.23,103.07 L369.77,102.87 L370.31,102.70 L370.85,102.57 L371.39,102.49 L371.93,102.45 L372.47,102.45 L373.01,102.49 L373.55,102.57 L374.09,102.70 L374.63,102.87 L375.17,103.07 L375.72,103.32 L376.26,103.61 L376.80,103.93 L377.34,104.29 L377.88,104.69 L378.42,105.12 L378.96,105.60 L379.50,106.10 L380.04,106.64 L380.58,107.22 L381.12,107.82 L381.67,108.46 L382.21,109.13 L382.75,109.84 L383.29,110.57 L383.83,111.33 L384.37,112.13 L384.91,112.96 L385.45,113.82 L385.99,114.71 L386.53,115.64 L387.07,116.59 L387.61,117.58 L388.16,118.61 L388.70,119.66 L389.24,120.75 L389.78,121.88 L390.32,123.03 L390.86,124.22 L391.40,125.42 L391.94,126.65 L392.48,127.89 L393.02,129.15 L393.56,130.42 L394.11,131.69 L394.65,132.97 L395.19,134.25 L395.73,135.53 L396.27,136.81 L396.81,138.09 L397.35,139.37 L397.89,140.66 L398.43,141.94 L398.97,143.22 L399.51,144.50 L400.05,145.78 L400.60,147.06 L401.14,148.34 L401.68,149.63 L402.22,150.91 L402.76,152.19 L403.30,153.47 L403.84,154.75 L404.38,156.03 L404.92,157.31 L405.46,158.59 L406.00,159.86 L406.55,161.13 L407.09,162.40 L407.63,163.65 L408.17,164.89 L408.71,166.12 L409.25,167.33 L409.79,168.53 L410.33,169.70 L410.87,170.86 L411.41,171.99 L411.95,173.09 L412.49,174.17 L413.04,175.23 L413.58,176.26 L414.12,177.26 L414.66,178.23 L415.20,179.18 L415.74,180.09 L416.28,180.97 L416.82,181.82 L417.36,182.64 L417.90,183.42 L418.44,184.19 L418.99,184.92 L419.53,185.62 L420.07,186.30 L420.61,186.95 L421.15,187.58 L421.69,188.18 L422.23,188.76 L422.77,189.32 L423.31,189.85 L423.85,190.37 L424.39,190.86 L424.93,191.33 L425.48,191.78 L426.02,192.22 L426.56,192.63 L427.10,193.03 L427.64,193.41 L428.18,193.78 L428.72,194.13 L429.26,194.46 L429.80,194.78 L430.34,195.09 L430.88,195.39 L431.43,195.67 L431.97,195.94 L432.51,196.20 L433.05,196.45 L433.59,196.68 L434.13,196.90 L434.67,197.11 L435.21,197.31 L435.75,197.50 L436.29,197.67 L436.83,197.84 L437.37,197.99 L437.92,198.14 L438.46,198.27 L439.00,198.39 L439.54,198.50 L440.08,198.61 L440.62,198.70 L441.16,198.79 L441.70,198.86 L442.24,198.93 L442.78,199.00 L443.32,199.05 L443.87,199.10 L444.41,199.14 L444.95,199.17 L445.49,199.20 L446.03,199.23 L446.57,199.25 L447.11,199.26 L447.65,199.27 L448.19,199.28 L448.73,199.28 L449.27,199.28 L449.81,199.28 L450.36,199.28 L450.90,199.27 L451.44,199.26 L451.98,199.26 L452.52,199.25 L453.06,199.24" fill="none" stroke="#000000" stroke-width="1.5" stroke-linejoin="round"/>
<line x1="372.2" y1="7.20" x2="372.2" y2="202.66" stroke="#000" stroke-width="1"/>
<line x1="370.59999999999997" y1="180.00" x2="372.2" y2="180.00" stroke="#000" stroke-width="1"/>
<line x1="369.2" y1="160.80" x2="372.2" y2="160.80" stroke="#000" stroke-width="1"/>
<line x1="370.59999999999997" y1="141.60" x2="372.2" y2="141.60" stroke="#000" stroke-width="1"/>
<line x1="369.2" y1="122.40" x2="372.2" y2="122.40" stroke="#000" stroke-width="1"/>
<line x1="370.59999999999997" y1="103.20" x2="372.2" y2="103.20" stroke="#000" stroke-width="1"/>
<line x1="369.2" y1="84.00" x2="372.2" y2="84.00" stroke="#000" stroke-width="1"/>
<line x1="370.59999999999997" y1="64.80" x2="372.2" y2="64.80" stroke="#000" stroke-width="1"/>
<line x1="369.2" y1="45.60" x2="372.2" y2="45.60" stroke="#000" stroke-width="1"/>
<line x1="370.59999999999997" y1="26.40" x2="372.2" y2="26.40" stroke="#000" stroke-width="1"/>
<line x1="369.2" y1="7.20" x2="372.2" y2="7.20" stroke="#000" stroke-width="1"/>
<text x="278.90" y="211.50" text-anchor="middle" class="t">-3</text>
<text x="310.00" y="211.50" text-anchor="middle" class="t">-2</text>
<text x="341.10" y="211.50" text-anchor="middle" class="t">-1</text>
<text x="367.50" y="211.50" text-anchor="middle" class="t">0</text>
<text x="403.30" y="211.50" text-anchor="middle" class="t">1</text>
<text x="434.40" y="211.50" text-anchor="middle" class="t">2</text>
<text x="465.50" y="211.50" text-anchor="middle" class="t">3</text>
<text x="496.60" y="211.50" text-anchor="middle" class="t">4</text>
<text x="367.20" y="164.50" text-anchor="end" class="t">0.2</text>
<text x="367.20" y="126.10" text-anchor="end" class="t">0.4</text>
<text x="367.20" y="87.70" text-anchor="end" class="t">0.6</text>
<text x="367.20" y="49.30" text-anchor="end" class="t">0.8</text>
<text x="367.20" y="10.90" text-anchor="end" class="t">1</text>
<line x1="11.65" y1="468.3" x2="237.15" y2="468.3" stroke="#000" stroke-width="1"/>
<line x1="11.65" y1="468.3" x2="11.65" y2="471.3" stroke="#000" stroke-width="1"/>
<line x1="27.38" y1="468.3" x2="27.38" y2="469.90000000000003" stroke="#000" stroke-width="1"/>
<line x1="43.10" y1="468.3" x2="43.10" y2="471.3" stroke="#000" stroke-width="1"/>
<line x1="58.83" y1="468.3" x2="58.83" y2="469.90000000000003" stroke="#000" stroke-width="1"/>
<line x1="74.55" y1="468.3" x2="74.55" y2="471.3" stroke="#000" stroke-width="1"/>
<line x1="90.28" y1="468.3" x2="90.28" y2="469.90000000000003" stroke="#000" stroke-width="1"/>
<line x1="106.00" y1="468.3" x2="106.00" y2="471.3" stroke="#000" stroke-width="1"/>
<line x1="121.72" y1="468.3" x2="121.72" y2="469.90000000000003" stroke="#000" stroke-width="1"/>
<line x1="137.45" y1="468.3" x2="137.45" y2="471.3" stroke="#000" stroke-width="1"/>
<line x1="153.18" y1="468.3" x2="153.18" y2="469.90000000000003" stroke="#000" stroke-width="1"/>
<line x1="168.90" y1="468.3" x2="168.90" y2="471.3" stroke="#000" stroke-width="1"/>
<line x1="184.62" y1="468.3" x2="184.62" y2="469.90000000000003" stroke="#000" stroke-width="1"/>
<line x1="200.35" y1="468.3" x2="200.35" y2="471.3" stroke="#000" stroke-width="1"/>
<line x1="216.07" y1="468.3" x2="216.07" y2="469.90000000000003" stroke="#000" stroke-width="1"/>
<line x1="231.80" y1="468.3" x2="231.80" y2="471.3" stroke="#000" stroke-width="1"/>
<line x1="11.65" y1="468.3" x2="75.15" y2="468.3" stroke="#8a2424" stroke-width="1.6"/>
<line x1="136.85" y1="468.3" x2="175.19" y2="468.3" stroke="#8a2424" stroke-width="1.6"/>
<path d="M74.55,468.3 L106.00,282.80 L137.45,468.3" fill="none" stroke="#ff0000" stroke-width="1.5" stroke-linejoin="round"/>
<path d="M43.10,468.61 L43.52,468.58 L43.94,468.56 L44.36,468.53 L44.78,468.50 L45.20,468.47 L45.62,468.43 L46.05,468.40 L46.47,468.36 L46.89,468.33 L47.31,468.29 L47.73,468.25 L48.15,468.20 L48.57,468.16 L48.99,468.10 L49.41,468.05 L49.83,467.99 L50.25,467.93 L50.67,467.86 L51.09,467.78 L51.51,467.70 L51.94,467.61 L52.36,467.52 L52.78,467.42 L53.20,467.31 L53.62,467.19 L54.04,467.07 L54.46,466.93 L54.88,466.79 L55.30,466.63 L55.72,466.47 L56.14,466.29 L56.56,466.10 L56.98,465.90 L57.41,465.69 L57.83,465.46 L58.25,465.22 L58.67,464.96 L59.09,464.69 L59.51,464.40 L59.93,464.09 L60.35,463.76 L60.77,463.42 L61.19,463.06 L61.61,462.68 L62.03,462.28 L62.45,461.86 L62.87,461.42 L63.30,460.95 L63.72,460.46 L64.14,459.96 L64.56,459.42 L64.98,458.86 L65.40,458.28 L65.82,457.68 L66.24,457.04 L66.66,456.38 L67.08,455.70 L67.50,454.98 L67.92,454.24 L68.34,453.47 L68.76,452.67 L69.19,451.85 L69.61,451.00 L70.03,450.11 L70.45,449.20 L70.87,448.27 L71.29,447.30 L71.71,446.30 L72.13,445.28 L72.55,444.22 L72.97,443.13 L73.39,442.02 L73.81,440.87 L74.23,439.69 L74.66,438.47 L75.08,437.23 L75.50,435.95 L75.92,434.64 L76.34,433.29 L76.76,431.91 L77.18,430.50 L77.60,429.04 L78.02,427.55 L78.44,426.03 L78.86,424.46 L79.28,422.85 L79.70,421.20 L80.12,419.51 L80.55,417.78 L80.97,416.01 L81.39,414.21 L81.81,412.37 L82.23,410.49 L82.65,408.59 L83.07,406.65 L83.49,404.69 L83.91,402.70 L84.33,400.69 L84.75,398.66 L85.17,396.62 L85.59,394.57 L86.02,392.53 L86.44,390.49 L86.86,388.48 L87.28,386.48 L87.70,384.52 L88.12,382.60 L88.54,380.72 L88.96,378.88 L89.38,377.08 L89.80,375.32 L90.22,373.62 L90.64,371.95 L91.06,370.34 L91.48,368.77 L91.91,367.25 L92.33,365.78 L92.75,364.36 L93.17,363.00 L93.59,361.68 L94.01,360.41 L94.43,359.19 L94.85,358.02 L95.27,356.91 L95.69,355.84 L96.11,354.83 L96.53,353.86 L96.95,352.95 L97.37,352.08 L97.80,351.26 L98.22,350.50 L98.64,349.78 L99.06,349.10 L99.48,348.48 L99.90,347.90 L100.32,347.36 L100.74,346.87 L101.16,346.42 L101.58,346.02 L102.00,345.66 L102.42,345.34 L102.84,345.07 L103.27,344.83 L103.69,344.63 L104.11,344.47 L104.53,344.34 L104.95,344.24 L105.37,344.18 L105.79,344.15 L106.21,344.15 L106.63,344.18 L107.05,344.24 L107.47,344.34 L107.89,344.47 L108.31,344.63 L108.73,344.83 L109.16,345.07 L109.58,345.34 L110.00,345.66 L110.42,346.02 L110.84,346.42 L111.26,346.87 L111.68,347.36 L112.10,347.90 L112.52,348.48 L112.94,349.10 L113.36,349.78 L113.78,350.50 L114.20,351.26 L114.63,352.08 L115.05,352.95 L115.47,353.86 L115.89,354.83 L116.31,355.84 L116.73,356.91 L117.15,358.02 L117.57,359.19 L117.99,360.41 L118.41,361.68 L118.83,363.00 L119.25,364.36 L119.67,365.78 L120.09,367.25 L120.52,368.77 L120.94,370.34 L121.36,371.95 L121.78,373.62 L122.20,375.32 L122.62,377.08 L123.04,378.88 L123.46,380.72 L123.88,382.60 L124.30,384.52 L124.72,386.48 L125.14,388.48 L125.56,390.49 L125.98,392.53 L126.41,394.57 L126.83,396.62 L127.25,398.66 L127.67,400.69 L128.09,402.70 L128.51,404.69 L128.93,406.65 L129.35,408.59 L129.77,410.49 L130.19,412.37 L130.61,414.21 L131.03,416.01 L131.45,417.78 L131.88,419.51 L132.30,421.20 L132.72,422.85 L133.14,424.46 L133.56,426.03 L133.98,427.55 L134.40,429.04 L134.82,430.50 L135.24,431.91 L135.66,433.29 L136.08,434.64 L136.50,435.95 L136.92,437.23 L137.34,438.47 L137.77,439.69 L138.19,440.87 L138.61,442.02 L139.03,443.13 L139.45,444.22 L139.87,445.28 L140.29,446.30 L140.71,447.30 L141.13,448.27 L141.55,449.20 L141.97,450.11 L142.39,451.00 L142.81,451.85 L143.24,452.67 L143.66,453.47 L144.08,454.24 L144.50,454.98 L144.92,455.70 L145.34,456.38 L145.76,457.04 L146.18,457.68 L146.60,458.28 L147.02,458.86 L147.44,459.42 L147.86,459.96 L148.28,460.46 L148.70,460.95 L149.13,461.42 L149.55,461.86 L149.97,462.28 L150.39,462.68 L150.81,463.06 L151.23,463.42 L151.65,463.76 L152.07,464.09 L152.49,464.40 L152.91,464.69 L153.33,464.96 L153.75,465.22 L154.17,465.46 L154.59,465.69 L155.02,465.90 L155.44,466.10 L155.86,466.29 L156.28,466.47 L156.70,466.63 L157.12,466.79 L157.54,466.93 L157.96,467.07 L158.38,467.19 L158.80,467.31 L159.22,467.42 L159.64,467.52 L160.06,467.61 L160.49,467.70 L160.91,467.78 L161.33,467.86 L161.75,467.93 L162.17,467.99 L162.59,468.05 L163.01,468.10 L163.43,468.16 L163.85,468.20 L164.27,468.25 L164.69,468.29 L165.11,468.33 L165.53,468.36 L165.95,468.40 L166.38,468.43 L166.80,468.47 L167.22,468.50 L167.64,468.53 L168.06,468.56 L168.48,468.58 L168.90,468.61" fill="none" stroke="#0000ff" stroke-width="1.5" stroke-linejoin="round"/>
<path d="M33.67,468.33 L34.15,468.31 L34.63,468.30 L35.12,468.28 L35.60,468.26 L36.08,468.24 L36.57,468.22 L37.05,468.19 L37.54,468.16 L38.02,468.13 L38.50,468.10 L38.99,468.06 L39.47,468.02 L39.96,467.98 L40.44,467.93 L40.92,467.88 L41.41,467.82 L41.89,467.76 L42.37,467.70 L42.86,467.63 L43.34,467.55 L43.83,467.47 L44.31,467.39 L44.79,467.29 L45.28,467.19 L45.76,467.08 L46.25,466.97 L46.73,466.85 L47.21,466.71 L47.70,466.57 L48.18,466.42 L48.66,466.26 L49.15,466.09 L49.63,465.90 L50.12,465.71 L50.60,465.50 L51.08,465.28 L51.57,465.05 L52.05,464.80 L52.54,464.54 L53.02,464.27 L53.50,463.98 L53.99,463.68 L54.47,463.36 L54.95,463.02 L55.44,462.67 L55.92,462.30 L56.41,461.91 L56.89,461.51 L57.37,461.08 L57.86,460.64 L58.34,460.18 L58.83,459.70 L59.31,459.20 L59.79,458.68 L60.28,458.14 L60.76,457.57 L61.24,456.98 L61.73,456.37 L62.21,455.73 L62.70,455.07 L63.18,454.38 L63.66,453.67 L64.15,452.93 L64.63,452.16 L65.12,451.36 L65.60,450.53 L66.08,449.68 L66.57,448.80 L67.05,447.88 L67.53,446.94 L68.02,445.96 L68.50,444.96 L68.99,443.92 L69.47,442.85 L69.95,441.76 L70.44,440.64 L70.92,439.50 L71.41,438.34 L71.89,437.17 L72.37,435.98 L72.86,434.78 L73.34,433.57 L73.82,432.36 L74.31,431.12 L74.79,429.88 L75.28,428.62 L75.76,427.35 L76.24,426.05 L76.73,424.74 L77.21,423.42 L77.70,422.07 L78.18,420.69 L78.66,419.30 L79.15,417.87 L79.63,416.42 L80.11,414.94 L80.60,413.43 L81.08,411.89 L81.57,410.34 L82.05,408.76 L82.53,407.16 L83.02,405.56 L83.50,403.95 L83.98,402.33 L84.47,400.72 L84.95,399.12 L85.44,397.54 L85.92,395.97 L86.40,394.43 L86.89,392.93 L87.37,391.45 L87.86,390.02 L88.34,388.63 L88.82,387.29 L89.31,386.00 L89.79,384.76 L90.28,383.58 L90.76,382.44 L91.24,381.35 L91.73,380.30 L92.21,379.29 L92.69,378.32 L93.18,377.38 L93.66,376.48 L94.15,375.61 L94.63,374.77 L95.11,373.97 L95.60,373.19 L96.08,372.45 L96.56,371.75 L97.05,371.07 L97.53,370.43 L98.02,369.82 L98.50,369.24 L98.98,368.69 L99.47,368.18 L99.95,367.70 L100.44,367.25 L100.92,366.84 L101.40,366.46 L101.89,366.11 L102.37,365.79 L102.86,365.51 L103.34,365.27 L103.82,365.07 L104.31,364.90 L104.79,364.77 L105.27,364.69 L105.76,364.64 L106.24,364.64 L106.73,364.69 L107.21,364.77 L107.69,364.90 L108.18,365.07 L108.66,365.27 L109.14,365.51 L109.63,365.79 L110.11,366.11 L110.60,366.46 L111.08,366.84 L111.56,367.25 L112.05,367.70 L112.53,368.18 L113.02,368.69 L113.50,369.24 L113.98,369.82 L114.47,370.43 L114.95,371.07 L115.43,371.75 L115.92,372.45 L116.40,373.19 L116.89,373.97 L117.37,374.77 L117.85,375.61 L118.34,376.48 L118.82,377.38 L119.31,378.32 L119.79,379.29 L120.27,380.30 L120.76,381.35 L121.24,382.44 L121.72,383.58 L122.21,384.76 L122.69,386.00 L123.18,387.29 L123.66,388.63 L124.14,390.02 L124.63,391.45 L125.11,392.93 L125.60,394.43 L126.08,395.97 L126.56,397.54 L127.05,399.12 L127.53,400.72 L128.02,402.33 L128.50,403.95 L128.98,405.56 L129.47,407.16 L129.95,408.76 L130.43,410.34 L130.92,411.89 L131.40,413.43 L131.89,414.94 L132.37,416.42 L132.85,417.87 L133.34,419.30 L133.82,420.69 L134.31,422.07 L134.79,423.42 L135.27,424.74 L135.76,426.05 L136.24,427.35 L136.72,428.62 L137.21,429.88 L137.69,431.12 L138.18,432.36 L138.66,433.57 L139.14,434.78 L139.63,435.98 L140.11,437.17 L140.59,438.34 L141.08,439.50 L141.56,440.64 L142.05,441.76 L142.53,442.85 L143.01,443.92 L143.50,444.96 L143.98,445.96 L144.47,446.94 L144.95,447.88 L145.43,448.80 L145.92,449.68 L146.40,450.53 L146.88,451.36 L147.37,452.16 L147.85,452.93 L148.34,453.67 L148.82,454.38 L149.30,455.07 L149.79,455.73 L150.27,456.37 L150.76,456.98 L151.24,457.57 L151.72,458.14 L152.21,458.68 L152.69,459.20 L153.18,459.70 L153.66,460.18 L154.14,460.64 L154.63,461.08 L155.11,461.51 L155.59,461.91 L156.08,462.30 L156.56,462.67 L157.05,463.02 L157.53,463.36 L158.01,463.68 L158.50,463.98 L158.98,464.27 L159.46,464.54 L159.95,464.80 L160.43,465.05 L160.92,465.28 L161.40,465.50 L161.88,465.71 L162.37,465.90 L162.85,466.09 L163.34,466.26 L163.82,466.42 L164.30,466.57 L164.79,466.71 L165.27,466.85 L165.75,466.97 L166.24,467.08 L166.72,467.19 L167.21,467.29 L167.69,467.39 L168.17,467.47 L168.66,467.55 L169.14,467.63 L169.63,467.70 L170.11,467.76 L170.59,467.82 L171.08,467.88 L171.56,467.93 L172.04,467.98 L172.53,468.02 L173.01,468.06 L173.50,468.10 L173.98,468.13 L174.46,468.16 L174.95,468.19 L175.43,468.22 L175.92,468.24 L176.40,468.26 L176.88,468.28 L177.37,468.30 L177.85,468.31 L178.33,468.33" fill="none" stroke="#00ff00" stroke-width="1.5" stroke-linejoin="round"/>
<path d="M24.23,468.31 L24.78,468.31 L25.32,468.30 L25.87,468.30 L26.42,468.30 L26.96,468.29 L27.51,468.29 L28.06,468.28 L28.61,468.27 L29.15,468.27 L29.70,468.26 L30.25,468.25 L30.79,468.23 L31.34,468.22 L31.89,468.20 L32.43,468.18 L32.98,468.17 L33.53,468.14 L34.08,468.12 L34.62,468.09 L35.17,468.06 L35.72,468.03 L36.26,468.00 L36.81,467.96 L37.36,467.91 L37.90,467.86 L38.45,467.81 L39.00,467.75 L39.54,467.69 L40.09,467.62 L40.64,467.54 L41.19,467.46 L41.73,467.37 L42.28,467.27 L42.83,467.16 L43.37,467.05 L43.92,466.93 L44.47,466.79 L45.01,466.65 L45.56,466.49 L46.11,466.32 L46.66,466.14 L47.20,465.95 L47.75,465.73 L48.30,465.51 L48.84,465.26 L49.39,465.00 L49.94,464.72 L50.48,464.42 L51.03,464.10 L51.58,463.76 L52.12,463.40 L52.67,463.02 L53.22,462.62 L53.77,462.20 L54.31,461.75 L54.86,461.29 L55.41,460.80 L55.95,460.29 L56.50,459.75 L57.05,459.19 L57.59,458.61 L58.14,458.00 L58.69,457.37 L59.24,456.71 L59.78,456.04 L60.33,455.34 L60.88,454.61 L61.42,453.86 L61.97,453.09 L62.52,452.30 L63.06,451.48 L63.61,450.63 L64.16,449.75 L64.70,448.85 L65.25,447.92 L65.80,446.95 L66.35,445.95 L66.89,444.92 L67.44,443.86 L67.99,442.76 L68.53,441.63 L69.08,440.46 L69.63,439.27 L70.17,438.04 L70.72,436.79 L71.27,435.51 L71.82,434.20 L72.36,432.87 L72.91,431.51 L73.46,430.13 L74.00,428.72 L74.55,427.29 L75.10,425.83 L75.64,424.35 L76.19,422.84 L76.74,421.31 L77.28,419.76 L77.83,418.19 L78.38,416.61 L78.93,415.02 L79.47,413.41 L80.02,411.81 L80.57,410.20 L81.11,408.60 L81.66,407.01 L82.21,405.44 L82.75,403.90 L83.30,402.40 L83.85,400.93 L84.40,399.51 L84.94,398.12 L85.49,396.77 L86.04,395.47 L86.58,394.21 L87.13,393.00 L87.68,391.84 L88.22,390.72 L88.77,389.64 L89.32,388.61 L89.86,387.62 L90.41,386.66 L90.96,385.75 L91.51,384.88 L92.05,384.04 L92.60,383.24 L93.15,382.48 L93.69,381.75 L94.24,381.05 L94.79,380.38 L95.33,379.75 L95.88,379.15 L96.43,378.58 L96.98,378.03 L97.52,377.51 L98.07,377.02 L98.62,376.56 L99.16,376.13 L99.71,375.72 L100.26,375.35 L100.80,375.00 L101.35,374.69 L101.90,374.40 L102.44,374.15 L102.99,373.93 L103.54,373.74 L104.09,373.59 L104.63,373.47 L105.18,373.39 L105.73,373.35 L106.27,373.35 L106.82,373.39 L107.37,373.47 L107.91,373.59 L108.46,373.74 L109.01,373.93 L109.56,374.15 L110.10,374.40 L110.65,374.69 L111.20,375.00 L111.74,375.35 L112.29,375.72 L112.84,376.13 L113.38,376.56 L113.93,377.02 L114.48,377.51 L115.02,378.03 L115.57,378.58 L116.12,379.15 L116.67,379.75 L117.21,380.38 L117.76,381.05 L118.31,381.75 L118.85,382.48 L119.40,383.24 L119.95,384.04 L120.49,384.88 L121.04,385.75 L121.59,386.66 L122.14,387.62 L122.68,388.61 L123.23,389.64 L123.78,390.72 L124.32,391.84 L124.87,393.00 L125.42,394.21 L125.96,395.47 L126.51,396.77 L127.06,398.12 L127.60,399.51 L128.15,400.93 L128.70,402.40 L129.25,403.90 L129.79,405.44 L130.34,407.01 L130.89,408.60 L131.43,410.20 L131.98,411.81 L132.53,413.41 L133.07,415.02 L133.62,416.61 L134.17,418.19 L134.72,419.76 L135.26,421.31 L135.81,422.84 L136.36,424.35 L136.90,425.83 L137.45,427.29 L138.00,428.72 L138.54,430.13 L139.09,431.51 L139.64,432.87 L140.18,434.20 L140.73,435.51 L141.28,436.79 L141.83,438.04 L142.37,439.27 L142.92,440.46 L143.47,441.63 L144.01,442.76 L144.56,443.86 L145.11,444.92 L145.65,445.95 L146.20,446.95 L146.75,447.92 L147.30,448.85 L147.84,449.75 L148.39,450.63 L148.94,451.48 L149.48,452.30 L150.03,453.09 L150.58,453.86 L151.12,454.61 L151.67,455.34 L152.22,456.04 L152.76,456.71 L153.31,457.37 L153.86,458.00 L154.41,458.61 L154.95,459.19 L155.50,459.75 L156.05,460.29 L156.59,460.80 L157.14,461.29 L157.69,461.75 L158.23,462.20 L158.78,462.62 L159.33,463.02 L159.88,463.40 L160.42,463.76 L160.97,464.10 L161.52,464.42 L162.06,464.72 L162.61,465.00 L163.16,465.26 L163.70,465.51 L164.25,465.73 L164.80,465.95 L165.34,466.14 L165.89,466.32 L166.44,466.49 L166.99,466.65 L167.53,466.79 L168.08,466.93 L168.63,467.05 L169.17,467.16 L169.72,467.27 L170.27,467.37 L170.81,467.46 L171.36,467.54 L171.91,467.62 L172.46,467.69 L173.00,467.75 L173.55,467.81 L174.10,467.86 L174.64,467.91 L175.19,467.96 L175.74,468.00 L176.28,468.03 L176.83,468.06 L177.38,468.09 L177.92,468.12 L178.47,468.14 L179.02,468.17 L179.57,468.18 L180.11,468.20 L180.66,468.22 L181.21,468.23 L181.75,468.25 L182.30,468.26 L182.85,468.27 L183.39,468.27 L183.94,468.28 L184.49,468.29 L185.04,468.29 L185.58,468.30 L186.13,468.30 L186.68,468.30 L187.22,468.31 L187.77,468.31" fill="none" stroke="#000000" stroke-width="1.5" stroke-linejoin="round"/>
<line x1="106.0" y1="282.80" x2="106.0" y2="468.30" stroke="#000" stroke-width="1"/>
<line x1="104.4" y1="449.75" x2="106.0" y2="449.75" stroke="#000" stroke-width="1"/>
<line x1="103.0" y1="431.20" x2="106.0" y2="431.20" stroke="#000" stroke-width="1"/>
<line x1="104.4" y1="412.65" x2="106.0" y2="412.65" stroke="#000" stroke-width="1"/>
<line x1="103.0" y1="394.10" x2="106.0" y2="394.10" stroke="#000" stroke-width="1"/>
<line x1="104.4" y1="375.55" x2="106.0" y2="375.55" stroke="#000" stroke-width="1"/>
<line x1="103.0" y1="357.00" x2="106.0" y2="357.00" stroke="#000" stroke-width="1"/>
<line x1="104.4" y1="338.45" x2="106.0" y2="338.45" stroke="#000" stroke-width="1"/>
<line x1="103.0" y1="319.90" x2="106.0" y2="319.90" stroke="#000" stroke-width="1"/>
<line x1="104.4" y1="301.35" x2="106.0" y2="301.35" stroke="#000" stroke-width="1"/>
<line x1="103.0" y1="282.80" x2="106.0" y2="282.80" stroke="#000" stroke-width="1"/>
<text x="11.65" y="480.60" text-anchor="middle" class="t">-3</text>
<text x="43.10" y="480.60" text-anchor="middle" class="t">-2</text>
<text x="74.55" y="480.60" text-anchor="middle" class="t">-1</text>
<text x="106.00" y="480.60" text-anchor="middle" class="t">0</text>
<text x="137.45" y="480.60" text-anchor="middle" class="t">1</text>
<text x="168.90" y="480.60" text-anchor="middle" class="t">2</text>
<text x="200.35" y="480.60" text-anchor="middle" class="t">3</text>
<text x="231.80" y="480.60" text-anchor="middle" class="t">4</text>
<text x="101.00" y="434.90" text-anchor="end" class="t">0.2</text>
<text x="101.00" y="397.80" text-anchor="end" class="t">0.4</text>
<text x="101.00" y="360.70" text-anchor="end" class="t">0.6</text>
<text x="101.00" y="323.60" text-anchor="end" class="t">0.8</text>
<text x="101.00" y="286.50" text-anchor="end" class="t">1</text>
<line x1="278.65" y1="473.6" x2="506.53" y2="473.6" stroke="#000" stroke-width="1"/>
<line x1="278.65" y1="473.6" x2="278.65" y2="476.6" stroke="#000" stroke-width="1"/>
<line x1="294.48" y1="473.6" x2="294.48" y2="475.20000000000005" stroke="#000" stroke-width="1"/>
<line x1="310.30" y1="473.6" x2="310.30" y2="476.6" stroke="#000" stroke-width="1"/>
<line x1="326.12" y1="473.6" x2="326.12" y2="475.20000000000005" stroke="#000" stroke-width="1"/>
<line x1="341.95" y1="473.6" x2="341.95" y2="476.6" stroke="#000" stroke-width="1"/>
<line x1="357.78" y1="473.6" x2="357.78" y2="475.20000000000005" stroke="#000" stroke-width="1"/>
<line x1="373.60" y1="473.6" x2="373.60" y2="476.6" stroke="#000" stroke-width="1"/>
<line x1="389.43" y1="473.6" x2="389.43" y2="475.20000000000005" stroke="#000" stroke-width="1"/>
<line x1="405.25" y1="473.6" x2="405.25" y2="476.6" stroke="#000" stroke-width="1"/>
<line x1="421.08" y1="473.6" x2="421.08" y2="475.20000000000005" stroke="#000" stroke-width="1"/>
<line x1="436.90" y1="473.6" x2="436.90" y2="476.6" stroke="#000" stroke-width="1"/>
<line x1="452.73" y1="473.6" x2="452.73" y2="475.20000000000005" stroke="#000" stroke-width="1"/>
<line x1="468.55" y1="473.6" x2="468.55" y2="476.6" stroke="#000" stroke-width="1"/>
<line x1="484.38" y1="473.6" x2="484.38" y2="475.20000000000005" stroke="#000" stroke-width="1"/>
<line x1="500.20" y1="473.6" x2="500.20" y2="476.6" stroke="#000" stroke-width="1"/>
<line x1="278.65" y1="473.6" x2="342.55" y2="473.6" stroke="#8a2424" stroke-width="1.6"/>
<line x1="404.65" y1="473.6" x2="468.55" y2="473.6" stroke="#8a2424" stroke-width="1.6"/>
<path d="M341.95,473.6 L373.60,283.10 L405.25,473.6" fill="none" stroke="#ff0000" stroke-width="1.5" stroke-linejoin="round"/>
<path d="M310.30,473.67 L310.72,473.65 L311.15,473.62 L311.57,473.60 L311.99,473.57 L312.42,473.54 L312.84,473.51 L313.26,473.47 L313.69,473.43 L314.11,473.39 L314.53,473.35 L314.96,473.30 L315.38,473.24 L315.80,473.18 L316.23,473.11 L316.65,473.04 L317.07,472.96 L317.50,472.88 L317.92,472.79 L318.34,472.69 L318.77,472.58 L319.19,472.46 L319.62,472.33 L320.04,472.20 L320.46,472.05 L320.89,471.88 L321.31,471.71 L321.73,471.52 L322.16,471.31 L322.58,471.09 L323.00,470.86 L323.43,470.60 L323.85,470.33 L324.27,470.04 L324.70,469.73 L325.12,469.41 L325.54,469.06 L325.97,468.69 L326.39,468.30 L326.81,467.89 L327.24,467.46 L327.66,467.00 L328.08,466.52 L328.51,466.02 L328.93,465.49 L329.35,464.94 L329.78,464.36 L330.20,463.76 L330.62,463.13 L331.05,462.48 L331.47,461.80 L331.89,461.09 L332.32,460.36 L332.74,459.60 L333.16,458.82 L333.59,458.00 L334.01,457.16 L334.43,456.30 L334.86,455.40 L335.28,454.48 L335.70,453.53 L336.13,452.55 L336.55,451.55 L336.97,450.52 L337.40,449.47 L337.82,448.40 L338.25,447.32 L338.67,446.22 L339.09,445.11 L339.52,444.00 L339.94,442.88 L340.36,441.76 L340.79,440.63 L341.21,439.51 L341.63,438.37 L342.06,437.24 L342.48,436.09 L342.90,434.93 L343.33,433.76 L343.75,432.58 L344.17,431.38 L344.60,430.16 L345.02,428.93 L345.44,427.67 L345.87,426.39 L346.29,425.09 L346.71,423.77 L347.14,422.42 L347.56,421.05 L347.98,419.67 L348.41,418.26 L348.83,416.82 L349.25,415.37 L349.68,413.89 L350.10,412.40 L350.52,410.88 L350.95,409.34 L351.37,407.79 L351.79,406.22 L352.22,404.63 L352.64,403.02 L353.06,401.41 L353.49,399.77 L353.91,398.13 L354.33,396.48 L354.76,394.81 L355.18,393.14 L355.61,391.46 L356.03,389.77 L356.45,388.08 L356.88,386.38 L357.30,384.69 L357.72,383.00 L358.15,381.32 L358.57,379.65 L358.99,378.00 L359.42,376.38 L359.84,374.78 L360.26,373.21 L360.69,371.68 L361.11,370.18 L361.53,368.74 L361.96,367.34 L362.38,365.99 L362.80,364.70 L363.23,363.47 L363.65,362.29 L364.07,361.17 L364.50,360.10 L364.92,359.08 L365.34,358.13 L365.77,357.22 L366.19,356.37 L366.61,355.56 L367.04,354.81 L367.46,354.11 L367.88,353.47 L368.31,352.87 L368.73,352.32 L369.15,351.82 L369.58,351.37 L370.00,350.96 L370.42,350.60 L370.85,350.29 L371.27,350.03 L371.69,349.81 L372.12,349.63 L372.54,349.51 L372.96,349.42 L373.39,349.38 L373.81,349.38 L374.24,349.42 L374.66,349.51 L375.08,349.63 L375.51,349.81 L375.93,350.03 L376.35,350.29 L376.78,350.60 L377.20,350.96 L377.62,351.37 L378.05,351.82 L378.47,352.32 L378.89,352.87 L379.32,353.47 L379.74,354.11 L380.16,354.81 L380.59,355.56 L381.01,356.37 L381.43,357.22 L381.86,358.13 L382.28,359.08 L382.70,360.10 L383.13,361.17 L383.55,362.29 L383.97,363.47 L384.40,364.70 L384.82,365.99 L385.24,367.34 L385.67,368.74 L386.09,370.18 L386.51,371.68 L386.94,373.21 L387.36,374.78 L387.78,376.38 L388.21,378.00 L388.63,379.65 L389.05,381.32 L389.48,383.00 L389.90,384.69 L390.32,386.38 L390.75,388.08 L391.17,389.77 L391.59,391.46 L392.02,393.14 L392.44,394.81 L392.87,396.48 L393.29,398.13 L393.71,399.77 L394.14,401.41 L394.56,403.02 L394.98,404.63 L395.41,406.22 L395.83,407.79 L396.25,409.34 L396.68,410.88 L397.10,412.40 L397.52,413.89 L397.95,415.37 L398.37,416.82 L398.79,418.26 L399.22,419.67 L399.64,421.05 L400.06,422.42 L400.49,423.77 L400.91,425.09 L401.33,426.39 L401.76,427.67 L402.18,428.93 L402.60,430.16 L403.03,431.38 L403.45,432.58 L403.87,433.76 L404.30,434.93 L404.72,436.09 L405.14,437.24 L405.57,438.37 L405.99,439.51 L406.41,440.63 L406.84,441.76 L407.26,442.88 L407.68,444.00 L408.11,445.11 L408.53,446.22 L408.95,447.32 L409.38,448.40 L409.80,449.47 L410.23,450.52 L410.65,451.55 L411.07,452.55 L411.50,453.53 L411.92,454.48 L412.34,455.40 L412.77,456.30 L413.19,457.16 L413.61,458.00 L414.04,458.82 L414.46,459.60 L414.88,460.36 L415.31,461.09 L415.73,461.80 L416.15,462.48 L416.58,463.13 L417.00,463.76 L417.42,464.36 L417.85,464.94 L418.27,465.49 L418.69,466.02 L419.12,466.52 L419.54,467.00 L419.96,467.46 L420.39,467.89 L420.81,468.30 L421.23,468.69 L421.66,469.06 L422.08,469.41 L422.50,469.73 L422.93,470.04 L423.35,470.33 L423.77,470.60 L424.20,470.86 L424.62,471.09 L425.04,471.31 L425.47,471.52 L425.89,471.71 L426.31,471.88 L426.74,472.05 L427.16,472.20 L427.58,472.33 L428.01,472.46 L428.43,472.58 L428.86,472.69 L429.28,472.79 L429.70,472.88 L430.13,472.96 L430.55,473.04 L430.97,473.11 L431.40,473.18 L431.82,473.24 L432.24,473.30 L432.67,473.35 L433.09,473.39 L433.51,473.43 L433.94,473.47 L434.36,473.51 L434.78,473.54 L435.21,473.57 L435.63,473.60 L436.05,473.62 L436.48,473.65 L436.90,473.67" fill="none" stroke="#0000ff" stroke-width="1.5" stroke-linejoin="round"/>
<path d="M303.97,473.69 L304.44,473.69 L304.90,473.68 L305.37,473.67 L305.83,473.67 L306.30,473.66 L306.76,473.64 L307.23,473.62 L307.70,473.60 L308.16,473.58 L308.63,473.54 L309.09,473.51 L309.56,473.46 L310.02,473.41 L310.49,473.35 L310.96,473.28 L311.42,473.21 L311.89,473.12 L312.35,473.03 L312.82,472.92 L313.29,472.80 L313.75,472.67 L314.22,472.52 L314.68,472.35 L315.15,472.17 L315.61,471.98 L316.08,471.76 L316.55,471.52 L317.01,471.26 L317.48,470.98 L317.94,470.67 L318.41,470.34 L318.87,469.98 L319.34,469.59 L319.81,469.18 L320.27,468.74 L320.74,468.27 L321.20,467.77 L321.67,467.25 L322.13,466.69 L322.60,466.11 L323.07,465.51 L323.53,464.87 L324.00,464.20 L324.46,463.51 L324.93,462.79 L325.39,462.04 L325.86,461.26 L326.33,460.46 L326.79,459.62 L327.26,458.77 L327.72,457.89 L328.19,457.00 L328.65,456.08 L329.12,455.15 L329.59,454.21 L330.05,453.25 L330.52,452.28 L330.98,451.30 L331.45,450.31 L331.92,449.32 L332.38,448.31 L332.85,447.31 L333.31,446.29 L333.78,445.26 L334.24,444.23 L334.71,443.19 L335.18,442.14 L335.64,441.09 L336.11,440.02 L336.57,438.94 L337.04,437.86 L337.50,436.77 L337.97,435.67 L338.44,434.57 L338.90,433.46 L339.37,432.35 L339.83,431.23 L340.30,430.12 L340.76,429.01 L341.23,427.89 L341.70,426.78 L342.16,425.67 L342.63,424.56 L343.09,423.44 L343.56,422.33 L344.02,421.22 L344.49,420.11 L344.96,419.01 L345.42,417.90 L345.89,416.79 L346.35,415.68 L346.82,414.57 L347.28,413.46 L347.75,412.35 L348.22,411.25 L348.68,410.15 L349.15,409.06 L349.61,407.98 L350.08,406.91 L350.55,405.85 L351.01,404.80 L351.48,403.77 L351.94,402.75 L352.41,401.75 L352.87,400.77 L353.34,399.81 L353.81,398.87 L354.27,397.96 L354.74,397.07 L355.20,396.21 L355.67,395.37 L356.13,394.55 L356.60,393.75 L357.07,392.96 L357.53,392.20 L358.00,391.44 L358.46,390.70 L358.93,389.97 L359.39,389.25 L359.86,388.54 L360.33,387.83 L360.79,387.14 L361.26,386.45 L361.72,385.78 L362.19,385.10 L362.65,384.43 L363.12,383.78 L363.59,383.14 L364.05,382.51 L364.52,381.91 L364.98,381.32 L365.45,380.77 L365.92,380.24 L366.38,379.74 L366.85,379.27 L367.31,378.83 L367.78,378.43 L368.24,378.05 L368.71,377.70 L369.18,377.39 L369.64,377.11 L370.11,376.86 L370.57,376.64 L371.04,376.46 L371.50,376.32 L371.97,376.20 L372.44,376.12 L372.90,376.06 L373.37,376.03 L373.83,376.03 L374.30,376.06 L374.76,376.12 L375.23,376.20 L375.70,376.32 L376.16,376.46 L376.63,376.64 L377.09,376.86 L377.56,377.11 L378.02,377.39 L378.49,377.70 L378.96,378.05 L379.42,378.43 L379.89,378.83 L380.35,379.27 L380.82,379.74 L381.28,380.24 L381.75,380.77 L382.22,381.32 L382.68,381.91 L383.15,382.51 L383.61,383.14 L384.08,383.78 L384.55,384.43 L385.01,385.10 L385.48,385.78 L385.94,386.45 L386.41,387.14 L386.87,387.83 L387.34,388.54 L387.81,389.25 L388.27,389.97 L388.74,390.70 L389.20,391.44 L389.67,392.20 L390.13,392.96 L390.60,393.75 L391.07,394.55 L391.53,395.37 L392.00,396.21 L392.46,397.07 L392.93,397.96 L393.39,398.87 L393.86,399.81 L394.33,400.77 L394.79,401.75 L395.26,402.75 L395.72,403.77 L396.19,404.80 L396.65,405.85 L397.12,406.91 L397.59,407.98 L398.05,409.06 L398.52,410.15 L398.98,411.25 L399.45,412.35 L399.92,413.46 L400.38,414.57 L400.85,415.68 L401.31,416.79 L401.78,417.90 L402.24,419.01 L402.71,420.11 L403.18,421.22 L403.64,422.33 L404.11,423.44 L404.57,424.56 L405.04,425.67 L405.50,426.78 L405.97,427.89 L406.44,429.01 L406.90,430.12 L407.37,431.23 L407.83,432.35 L408.30,433.46 L408.76,434.57 L409.23,435.67 L409.70,436.77 L410.16,437.86 L410.63,438.94 L411.09,440.02 L411.56,441.09 L412.02,442.14 L412.49,443.19 L412.96,444.23 L413.42,445.26 L413.89,446.29 L414.35,447.31 L414.82,448.31 L415.28,449.32 L415.75,450.31 L416.22,451.30 L416.68,452.28 L417.15,453.25 L417.61,454.21 L418.08,455.15 L418.55,456.08 L419.01,457.00 L419.48,457.89 L419.94,458.77 L420.41,459.62 L420.87,460.46 L421.34,461.26 L421.81,462.04 L422.27,462.79 L422.74,463.51 L423.20,464.20 L423.67,464.87 L424.13,465.51 L424.60,466.11 L425.07,466.69 L425.53,467.25 L426.00,467.77 L426.46,468.27 L426.93,468.74 L427.39,469.18 L427.86,469.59 L428.33,469.98 L428.79,470.34 L429.26,470.67 L429.72,470.98 L430.19,471.26 L430.65,471.52 L431.12,471.76 L431.59,471.98 L432.05,472.17 L432.52,472.35 L432.98,472.52 L433.45,472.67 L433.91,472.80 L434.38,472.92 L434.85,473.03 L435.31,473.12 L435.78,473.21 L436.24,473.28 L436.71,473.35 L437.18,473.41 L437.64,473.46 L438.11,473.51 L438.57,473.54 L439.04,473.58 L439.50,473.60 L439.97,473.62 L440.44,473.64 L440.90,473.66 L441.37,473.67 L441.83,473.67 L442.30,473.68 L442.76,473.69 L443.23,473.69" fill="none" stroke="#00ff00" stroke-width="1.5" stroke-linejoin="round"/>
<path d="M300.81,473.80 L301.29,473.81 L301.78,473.83 L302.27,473.84 L302.75,473.84 L303.24,473.85 L303.73,473.85 L304.21,473.84 L304.70,473.83 L305.19,473.82 L305.67,473.80 L306.16,473.77 L306.65,473.73 L307.14,473.69 L307.62,473.64 L308.11,473.58 L308.60,473.51 L309.08,473.42 L309.57,473.33 L310.06,473.22 L310.54,473.10 L311.03,472.96 L311.52,472.80 L312.00,472.63 L312.49,472.44 L312.98,472.22 L313.47,471.99 L313.95,471.73 L314.44,471.45 L314.93,471.15 L315.41,470.83 L315.90,470.48 L316.39,470.11 L316.87,469.72 L317.36,469.30 L317.85,468.86 L318.33,468.40 L318.82,467.91 L319.31,467.40 L319.80,466.87 L320.28,466.31 L320.77,465.73 L321.26,465.13 L321.74,464.50 L322.23,463.86 L322.72,463.19 L323.20,462.50 L323.69,461.80 L324.18,461.07 L324.66,460.32 L325.15,459.54 L325.64,458.75 L326.12,457.94 L326.61,457.10 L327.10,456.25 L327.59,455.37 L328.07,454.47 L328.56,453.54 L329.05,452.60 L329.53,451.63 L330.02,450.64 L330.51,449.62 L330.99,448.59 L331.48,447.53 L331.97,446.46 L332.46,445.38 L332.94,444.28 L333.43,443.17 L333.92,442.06 L334.40,440.94 L334.89,439.82 L335.38,438.70 L335.86,437.57 L336.35,436.45 L336.84,435.32 L337.32,434.18 L337.81,433.04 L338.30,431.90 L338.79,430.75 L339.27,429.59 L339.76,428.43 L340.25,427.25 L340.73,426.08 L341.22,424.90 L341.71,423.72 L342.19,422.54 L342.68,421.38 L343.17,420.22 L343.65,419.08 L344.14,417.95 L344.63,416.85 L345.12,415.76 L345.60,414.71 L346.09,413.68 L346.58,412.67 L347.06,411.69 L347.55,410.72 L348.04,409.77 L348.52,408.84 L349.01,407.93 L349.50,407.03 L349.98,406.15 L350.47,405.27 L350.96,404.40 L351.45,403.55 L351.93,402.69 L352.42,401.85 L352.91,401.00 L353.39,400.16 L353.88,399.32 L354.37,398.49 L354.85,397.66 L355.34,396.84 L355.83,396.02 L356.31,395.22 L356.80,394.44 L357.29,393.67 L357.78,392.93 L358.26,392.20 L358.75,391.51 L359.24,390.84 L359.72,390.20 L360.21,389.60 L360.70,389.03 L361.18,388.49 L361.67,387.98 L362.16,387.50 L362.64,387.05 L363.13,386.64 L363.62,386.26 L364.11,385.92 L364.59,385.60 L365.08,385.32 L365.57,385.06 L366.05,384.83 L366.54,384.63 L367.03,384.45 L367.51,384.29 L368.00,384.15 L368.49,384.04 L368.97,383.94 L369.46,383.86 L369.95,383.80 L370.44,383.75 L370.92,383.71 L371.41,383.68 L371.90,383.66 L372.38,383.65 L372.87,383.64 L373.36,383.64 L373.84,383.64 L374.33,383.64 L374.82,383.65 L375.30,383.66 L375.79,383.68 L376.28,383.71 L376.77,383.75 L377.25,383.80 L377.74,383.86 L378.23,383.94 L378.71,384.04 L379.20,384.15 L379.69,384.29 L380.17,384.45 L380.66,384.63 L381.15,384.83 L381.63,385.06 L382.12,385.32 L382.61,385.60 L383.10,385.92 L383.58,386.26 L384.07,386.64 L384.56,387.05 L385.04,387.50 L385.53,387.98 L386.02,388.49 L386.50,389.03 L386.99,389.60 L387.48,390.20 L387.96,390.84 L388.45,391.51 L388.94,392.20 L389.43,392.93 L389.91,393.67 L390.40,394.44 L390.89,395.22 L391.37,396.02 L391.86,396.84 L392.35,397.66 L392.83,398.49 L393.32,399.32 L393.81,400.16 L394.29,401.00 L394.78,401.85 L395.27,402.69 L395.76,403.55 L396.24,404.40 L396.73,405.27 L397.22,406.15 L397.70,407.03 L398.19,407.93 L398.68,408.84 L399.16,409.77 L399.65,410.72 L400.14,411.69 L400.62,412.67 L401.11,413.68 L401.60,414.71 L402.09,415.76 L402.57,416.85 L403.06,417.95 L403.55,419.08 L404.03,420.22 L404.52,421.38 L405.01,422.54 L405.49,423.72 L405.98,424.90 L406.47,426.08 L406.95,427.25 L407.44,428.43 L407.93,429.59 L408.42,430.75 L408.90,431.90 L409.39,433.04 L409.88,434.18 L410.36,435.32 L410.85,436.45 L411.34,437.57 L411.82,438.70 L412.31,439.82 L412.80,440.94 L413.28,442.06 L413.77,443.17 L414.26,444.28 L414.75,445.38 L415.23,446.46 L415.72,447.53 L416.21,448.59 L416.69,449.62 L417.18,450.64 L417.67,451.63 L418.15,452.60 L418.64,453.54 L419.13,454.47 L419.61,455.37 L420.10,456.25 L420.59,457.10 L421.08,457.94 L421.56,458.75 L422.05,459.54 L422.54,460.32 L423.02,461.07 L423.51,461.80 L424.00,462.50 L424.48,463.19 L424.97,463.86 L425.46,464.50 L425.94,465.13 L426.43,465.73 L426.92,466.31 L427.41,466.87 L427.89,467.40 L428.38,467.91 L428.87,468.40 L429.35,468.86 L429.84,469.30 L430.33,469.72 L430.81,470.11 L431.30,470.48 L431.79,470.83 L432.27,471.15 L432.76,471.45 L433.25,471.73 L433.74,471.99 L434.22,472.22 L434.71,472.44 L435.20,472.63 L435.68,472.80 L436.17,472.96 L436.66,473.10 L437.14,473.22 L437.63,473.33 L438.12,473.42 L438.60,473.51 L439.09,473.58 L439.58,473.64 L440.06,473.69 L440.55,473.73 L441.04,473.77 L441.53,473.80 L442.01,473.82 L442.50,473.83 L442.99,473.84 L443.47,473.85 L443.96,473.85 L444.45,473.84 L444.93,473.84 L445.42,473.83 L445.91,473.81 L446.39,473.80" fill="none" stroke="#000000" stroke-width="1.5" stroke-linejoin="round"/>
<line x1="373.6" y1="283.10" x2="373.6" y2="473.60" stroke="#3a3a3a" stroke-width="1"/>
<line x1="372.0" y1="454.55" x2="373.6" y2="454.55" stroke="#000" stroke-width="1"/>
<line x1="370.6" y1="435.50" x2="373.6" y2="435.50" stroke="#000" stroke-width="1"/>
<line x1="372.0" y1="416.45" x2="373.6" y2="416.45" stroke="#000" stroke-width="1"/>
<line x1="370.6" y1="397.40" x2="373.6" y2="397.40" stroke="#000" stroke-width="1"/>
<line x1="372.0" y1="378.35" x2="373.6" y2="378.35" stroke="#000" stroke-width="1"/>
<line x1="370.6" y1="359.30" x2="373.6" y2="359.30" stroke="#000" stroke-width="1"/>
<line x1="372.0" y1="340.25" x2="373.6" y2="340.25" stroke="#000" stroke-width="1"/>
<line x1="370.6" y1="321.20" x2="373.6" y2="321.20" stroke="#000" stroke-width="1"/>
<line x1="372.0" y1="302.15" x2="373.6" y2="302.15" stroke="#000" stroke-width="1"/>
<line x1="370.6" y1="283.10" x2="373.6" y2="283.10" stroke="#000" stroke-width="1"/>
<text x="278.65" y="485.90" text-anchor="middle" class="t">-3</text>
<text x="310.30" y="485.90" text-anchor="middle" class="t">-2</text>
<text x="341.95" y="485.90" text-anchor="middle" class="t">-1</text>
<text x="373.60" y="485.90" text-anchor="middle" class="t">0</text>
<text x="405.25" y="485.90" text-anchor="middle" class="t">1</text>
<text x="436.90" y="485.90" text-anchor="middle" class="t">2</text>
<text x="468.55" y="485.90" text-anchor="middle" class="t">3</text>
<text x="500.20" y="485.90" text-anchor="middle" class="t">4</text>
<text x="368.60" y="439.20" text-anchor="end" class="t">0.2</text>
<text x="368.60" y="401.10" text-anchor="end" class="t">0.4</text>
<text x="368.60" y="363.00" text-anchor="end" class="t">0.6</text>
<text x="368.60" y="324.90" text-anchor="end" class="t">0.8</text>
<text x="368.60" y="286.80" text-anchor="end" class="t">1</text>
<rect x="28.8" y="219.8" width="187.79999999999998" height="14.0" fill="#fff" stroke="#444" stroke-width="1.2"/>
<line x1="31" y1="226.60000000000002" x2="52" y2="226.60000000000002" stroke="#00ff00" stroke-width="1.5"/>
<text transform="translate(55.3,230.80) scale(0.965,1)" class="lg">–0.6215</text>
<line x1="95.5" y1="226.60000000000002" x2="114.4" y2="226.60000000000002" stroke="#000000" stroke-width="1.5"/>
<text transform="translate(119,230.80) scale(0.965,1)" class="lg">-0.3125</text>
<line x1="156" y1="226.60000000000002" x2="175.8" y2="226.60000000000002" stroke="#0000ff" stroke-width="1.5"/>
<text transform="translate(180.1,230.80) scale(0.965,1)" class="lg">-0.0625</text>
<rect x="322.6" y="219.8" width="133.79999999999995" height="14.0" fill="#fff" stroke="#444" stroke-width="1.2"/>
<line x1="324.6" y1="226.60000000000002" x2="344.7" y2="226.60000000000002" stroke="#0000ff" stroke-width="1.5"/>
<text transform="translate(348.9,230.80) scale(0.965,1)" class="lg">-0.2</text>
<line x1="369.5" y1="226.60000000000002" x2="389.8" y2="226.60000000000002" stroke="#00ff00" stroke-width="1.5"/>
<text transform="translate(393.9,230.80) scale(0.965,1)" class="lg">-0.5</text>
<line x1="414.5" y1="226.60000000000002" x2="434.9" y2="226.60000000000002" stroke="#000000" stroke-width="1.5"/>
<text transform="translate(439.1,230.80) scale(0.965,1)" class="lg">0.5</text>
<rect x="44.6" y="494.4" width="156.20000000000002" height="14.200000000000045" fill="#fff" stroke="#444" stroke-width="1.2"/>
<line x1="46.7" y1="501.3" x2="67" y2="501.3" stroke="#0000ff" stroke-width="1.5"/>
<text transform="translate(71.3,505.50) scale(0.965,1)" class="lg">-0.078</text>
<line x1="102" y1="501.3" x2="122.8" y2="501.3" stroke="#00ff00" stroke-width="1.5"/>
<text transform="translate(126.8,505.50) scale(0.965,1)" class="lg">0.5</text>
<line x1="144.1" y1="501.3" x2="163.5" y2="501.3" stroke="#000000" stroke-width="1.5"/>
<text transform="translate(168,505.50) scale(0.965,1)" class="lg">0.3125</text>
<rect x="318.6" y="494.6" width="141.79999999999995" height="14.0" fill="#fff" stroke="#444" stroke-width="1.2"/>
<line x1="320.6" y1="501.40000000000003" x2="341" y2="501.40000000000003" stroke="#0000ff" stroke-width="1.5"/>
<text transform="translate(344.9,505.60) scale(0.965,1)" class="lg">0.01</text>
<line x1="367.8" y1="501.40000000000003" x2="387.7" y2="501.40000000000003" stroke="#00ff00" stroke-width="1.5"/>
<text transform="translate(392,505.60) scale(0.965,1)" class="lg">0.05</text>
<line x1="414.5" y1="501.40000000000003" x2="434.9" y2="501.40000000000003" stroke="#000000" stroke-width="1.5"/>
<text transform="translate(438.8,505.60) scale(0.965,1)" class="lg">0.65</text>
<text y="266.3" class="cap"><tspan x="110.60" style="font-size:24px">(</tspan><tspan x="117.60" font-weight="bold">a</tspan><tspan x="128.60" style="font-size:24px">)</tspan></text>
<text y="266.3" class="cap"><tspan x="376.10" style="font-size:24px">(</tspan><tspan x="383.10" font-weight="bold">b</tspan><tspan x="396.10" style="font-size:24px">)</tspan></text>
<text y="541.3" class="cap"><tspan x="109.90" style="font-size:24px">(</tspan><tspan x="117.30" font-weight="bold">c</tspan><tspan x="127.10" style="font-size:24px">)</tspan></text>
<text y="541.3" class="cap"><tspan x="376.10" style="font-size:24px">(</tspan><tspan x="383.10" font-weight="bold">d</tspan><tspan x="396.10" style="font-size:24px">)</tspan></text>
</svg>
</body></html>
